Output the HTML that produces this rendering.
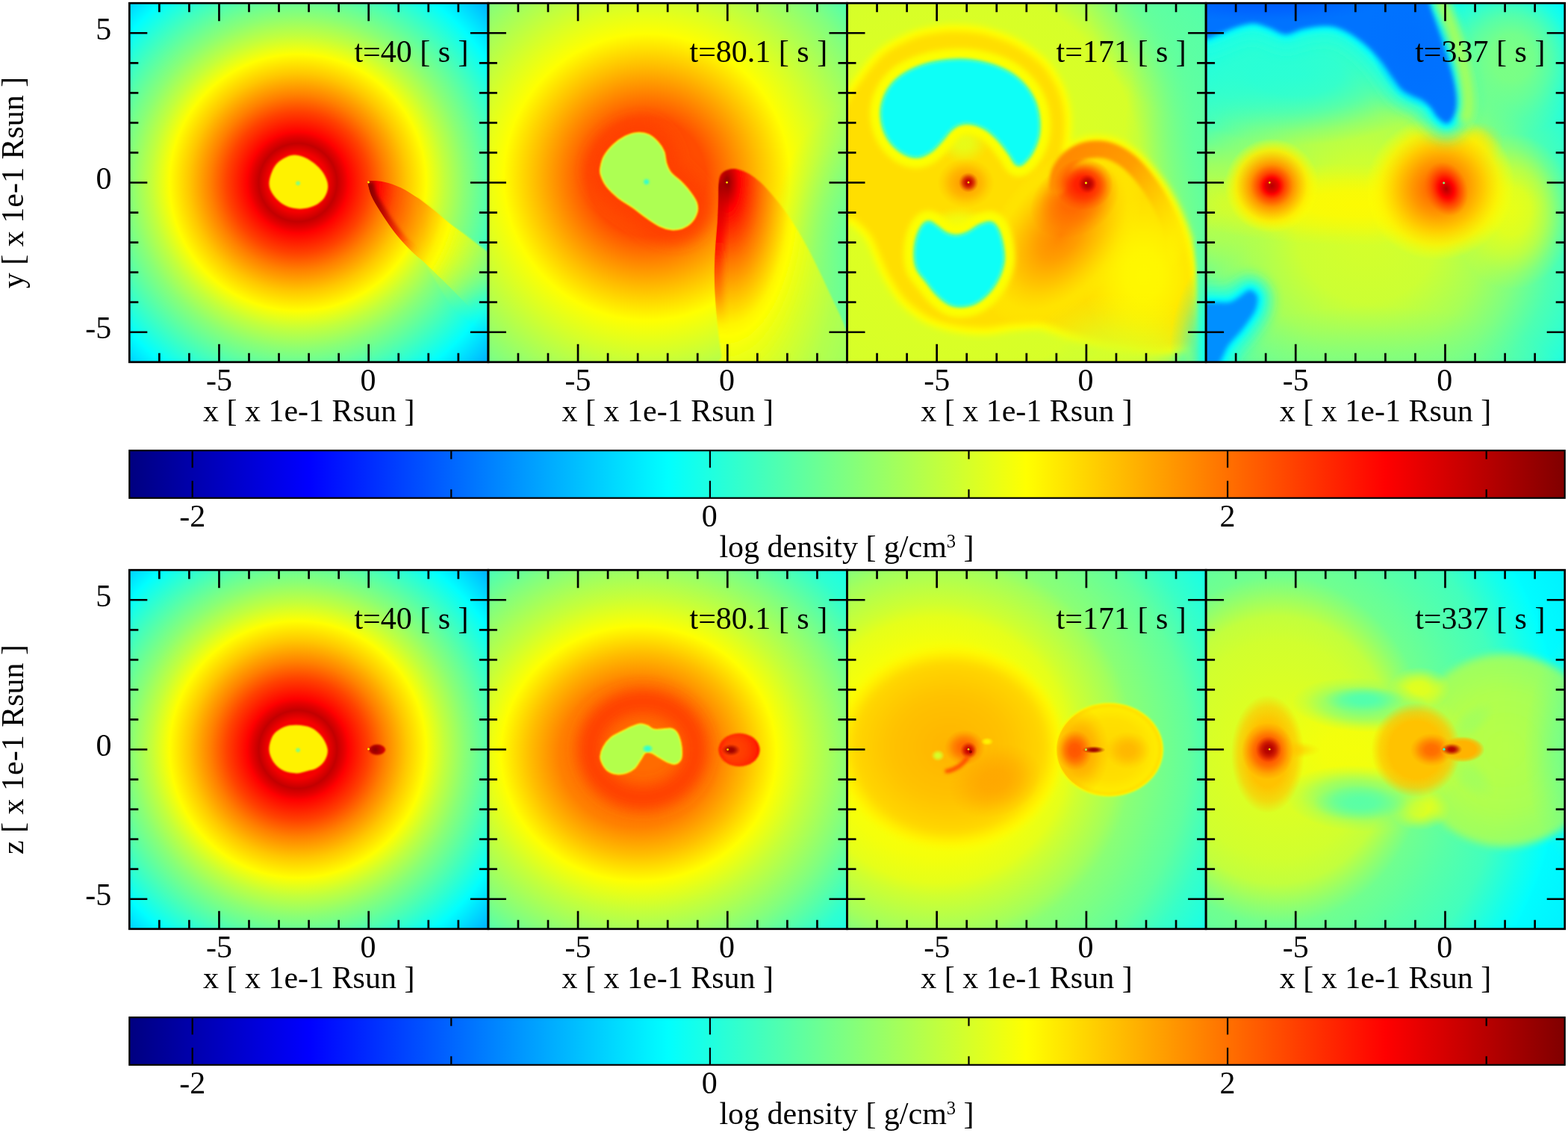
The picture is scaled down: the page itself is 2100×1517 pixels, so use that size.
<!DOCTYPE html>
<html lang="en"><head><meta charset="utf-8"><title>log density maps</title><style>html,body{margin:0;padding:0;background:#fff}body{width:2100px;height:1517px;overflow:hidden}svg{display:block}</style></head><body>
<svg width="2100" height="1517" viewBox="0 0 2100 1517"><defs><clipPath id="c00"><rect x="0" y="0" width="1517" height="1517"/></clipPath><radialGradient id="g1" gradientUnits="userSpaceOnUse" cx="712.5" cy="758" r="1400"><stop offset="0" stop-color="#fa0000"/><stop offset="0.0893" stop-color="#f50000"/><stop offset="0.1179" stop-color="#c20000"/><stop offset="0.1393" stop-color="#e50000"/><stop offset="0.1529" stop-color="#ff0000"/><stop offset="0.2143" stop-color="#ff4200"/><stop offset="0.2636" stop-color="#ff8000"/><stop offset="0.3279" stop-color="#ffc700"/><stop offset="0.3871" stop-color="#ffff00"/><stop offset="0.4429" stop-color="#c2ff3d"/><stop offset="0.5029" stop-color="#8aff75"/><stop offset="0.6071" stop-color="#38ffc7"/><stop offset="0.6786" stop-color="#00ffff"/><stop offset="0.7857" stop-color="#00b2ff"/><stop offset="1" stop-color="#0080ff"/></radialGradient><radialGradient id="g2" gradientUnits="userSpaceOnUse" cx="712" cy="760" r="1000"><stop offset="0" stop-color="#c70000"/><stop offset="0.3" stop-color="#c70000"/><stop offset="0.34" stop-color="#ff0000"/><stop offset="0.412" stop-color="#ff4c00"/><stop offset="0.545" stop-color="#ffa800"/><stop offset="0.635" stop-color="#fff000"/><stop offset="0.6637" stop-color="#ffff00"/><stop offset="0.75" stop-color="#d1ff2e"/><stop offset="0.9" stop-color="#80ff80"/><stop offset="1" stop-color="#42ffbd"/></radialGradient><linearGradient id="g3" gradientUnits="userSpaceOnUse" x1="1400" y1="962" x2="1225" y2="1188"><stop offset="0" stop-color="#fff" stop-opacity="0.9"/><stop offset="0.35" stop-color="#fff" stop-opacity="0.75"/><stop offset="1" stop-color="#fff" stop-opacity="0"/></linearGradient><mask id="m4" maskUnits="userSpaceOnUse" x="-100" y="-100" width="1720" height="1720"><rect x="-100" y="-100" width="1720" height="1720" fill="url(#g3)"/></mask><filter id="b3" x="-50%" y="-50%" width="200%" height="200%"><feGaussianBlur stdDeviation="3"/></filter><clipPath id="wk1"><path d="M1008 762C1009.43 760.17 1004.93 752 1016.6 751C1028.27 750 1056.27 751.17 1078 756C1099.73 760.83 1124.17 769.17 1147 780C1169.83 790.83 1192.17 805.5 1215 821C1237.83 836.5 1261 854.67 1284 873C1307 891.33 1330.17 912.67 1353 931C1375.83 949.33 1389.83 959 1421 983C1452.17 1007 1520.17 1059.67 1540 1075L1540 1390C1514.5 1363.83 1424 1270.67 1387 1233C1350 1195.33 1340.83 1186.5 1318 1164C1295.17 1141.5 1269.33 1115.83 1250 1098C1230.67 1080.17 1219.17 1073.33 1202 1057C1184.83 1040.67 1164.17 1019.83 1147 1000C1129.83 980.17 1113.83 958.67 1099 938C1084.17 917.33 1070.67 896.67 1058 876C1045.33 855.33 1031.33 833 1023 814C1014.67 795 1010.5 770.67 1008 762Z"/></clipPath><linearGradient id="g5" gradientUnits="userSpaceOnUse" x1="1010" y1="756" x2="1500" y2="1230"><stop offset="0" stop-color="#fff" stop-opacity="1"/><stop offset="0.66" stop-color="#fff" stop-opacity="0.95"/><stop offset="0.85" stop-color="#fff" stop-opacity="0.5"/><stop offset="1" stop-color="#fff" stop-opacity="0"/></linearGradient><mask id="m6" maskUnits="userSpaceOnUse" x="-100" y="-100" width="1720" height="1720"><rect x="-100" y="-100" width="1720" height="1720" fill="url(#g5)"/></mask><linearGradient id="g7" gradientUnits="userSpaceOnUse" x1="1010" y1="756" x2="1202" y2="1057"><stop offset="0" stop-color="#800000"/><stop offset="0.3" stop-color="#9e0000" stop-opacity="0.95"/><stop offset="0.7" stop-color="#e50000" stop-opacity="0.6"/><stop offset="0.775" stop-color="#ff0000" stop-opacity="0.45"/><stop offset="1" stop-color="#ff4c00" stop-opacity="0"/></linearGradient><filter id="b9" x="-50%" y="-50%" width="200%" height="200%"><feGaussianBlur stdDeviation="9"/></filter><filter id="b2_5" x="-50%" y="-50%" width="200%" height="200%"><feGaussianBlur stdDeviation="2.5"/></filter><filter id="b3_5" x="-50%" y="-50%" width="200%" height="200%"><feGaussianBlur stdDeviation="3.5"/></filter><filter id="b1_5" x="-50%" y="-50%" width="200%" height="200%"><feGaussianBlur stdDeviation="1.5"/></filter><clipPath id="c01"><rect x="0" y="0" width="1517" height="1517"/></clipPath><radialGradient id="g8" gradientUnits="userSpaceOnUse" cx="670" cy="735" r="1400"><stop offset="0" stop-color="#ff4c00"/><stop offset="0.1786" stop-color="#ff4c00"/><stop offset="0.2643" stop-color="#ff8a00"/><stop offset="0.3357" stop-color="#ffbd00"/><stop offset="0.4321" stop-color="#ffff00"/><stop offset="0.525" stop-color="#d6ff29"/><stop offset="0.7143" stop-color="#80ff80"/><stop offset="0.8214" stop-color="#42ffbd"/><stop offset="1" stop-color="#05fffa"/></radialGradient><radialGradient id="g9" gradientUnits="userSpaceOnUse" cx="1620" cy="1000" r="420" gradientTransform="translate(1620 1000) rotate(0) scale(1 1.4286) translate(-1620 -1000)"><stop offset="0" stop-color="#4dffb2" stop-opacity="0.75"/><stop offset="0.3" stop-color="#4dffb2" stop-opacity="0.69"/><stop offset="0.55" stop-color="#4dffb2" stop-opacity="0.46"/><stop offset="0.8" stop-color="#4dffb2" stop-opacity="0.17"/><stop offset="1" stop-color="#4dffb2" stop-opacity="0"/></radialGradient><filter id="b28" x="-50%" y="-50%" width="200%" height="200%"><feGaussianBlur stdDeviation="28"/></filter><radialGradient id="g10" gradientUnits="userSpaceOnUse" cx="1007.79" cy="758.08" r="1400" gradientTransform="translate(1007.79 0) scale(0.45 1) translate(-1007.79 0)"><stop offset="0" stop-color="#800000"/><stop offset="0.0264" stop-color="#b30000"/><stop offset="0.0829" stop-color="#ff0000"/><stop offset="0.1429" stop-color="#ff2e00"/><stop offset="0.2357" stop-color="#ff7500"/><stop offset="0.3343" stop-color="#ffb800"/><stop offset="0.4286" stop-color="#fff500"/><stop offset="0.4629" stop-color="#ffff00"/><stop offset="0.5143" stop-color="#f0ff0f"/><stop offset="0.6236" stop-color="#d6ff29"/><stop offset="0.8" stop-color="#b3ff4c"/><stop offset="1" stop-color="#9eff61"/></radialGradient><clipPath id="wk2"><path d="M974.12 754.96C972.04 774.18 973.29 806.92 972.25 836.01C971.21 865.11 969.96 898.36 967.88 929.54C965.8 960.71 961.86 991.89 959.78 1023.06C957.7 1054.24 955.93 1085.41 955.41 1116.59C954.89 1147.76 955.41 1178.94 956.66 1210.11C957.91 1241.29 960.3 1272.46 962.89 1303.63C965.49 1334.81 968.61 1365.98 972.25 1397.16C975.88 1428.33 981.08 1463.67 984.72 1490.68C988.35 1517.7 893.79 1547.84 994.07 1559.27C1094.35 1570.7 1499.1 1586.29 1586.39 1559.27C1673.68 1532.25 1533.39 1434.57 1517.81 1397.16C1502.22 1359.75 1504.3 1360.79 1492.87 1334.81C1481.43 1308.83 1464.81 1274.54 1449.22 1241.29C1433.63 1208.03 1415.97 1169.58 1399.34 1135.29C1382.71 1101 1366.09 1066.71 1349.46 1035.53C1332.84 1004.36 1316.21 975.26 1299.58 948.24C1282.96 921.22 1266.33 896.28 1249.7 873.42C1233.08 850.56 1216.45 830.3 1199.82 811.07C1183.2 791.85 1166.57 773.14 1149.94 758.08C1133.32 743.01 1116.69 730.02 1100.06 720.67C1083.44 711.31 1064.73 704.77 1050.18 701.96C1035.64 699.16 1023.69 700.71 1012.77 703.83C1001.86 706.95 991.16 712.15 984.72 720.67C978.27 729.19 976.2 735.73 974.12 754.96Z"/></clipPath><linearGradient id="g11" gradientUnits="userSpaceOnUse" x1="1007.79" y1="758.08" x2="1007.79" y2="1378.08"><stop offset="0" stop-color="#9e0000"/><stop offset="0.15" stop-color="#d10000"/><stop offset="0.375" stop-color="#ff0000" stop-opacity="0.93"/><stop offset="0.45" stop-color="#ff0f00" stop-opacity="0.9"/><stop offset="0.75" stop-color="#ff6100" stop-opacity="0.6"/><stop offset="1" stop-color="#ffb300" stop-opacity="0"/></linearGradient><filter id="b14" x="-50%" y="-50%" width="200%" height="200%"><feGaussianBlur stdDeviation="14"/></filter><filter id="b5" x="-50%" y="-50%" width="200%" height="200%"><feGaussianBlur stdDeviation="5"/></filter><clipPath id="c02"><rect x="0" y="0" width="1517" height="1517"/></clipPath><radialGradient id="g12" gradientUnits="userSpaceOnUse" cx="400" cy="760" r="1400"><stop offset="0" stop-color="#e5ff1a"/><stop offset="0.6071" stop-color="#d6ff29"/><stop offset="0.7143" stop-color="#9eff61"/><stop offset="0.7943" stop-color="#6bff94"/><stop offset="0.8929" stop-color="#42ffbd"/><stop offset="0.965" stop-color="#1affe5"/><stop offset="1.0315" stop-color="#00ffff"/><stop offset="1.0714" stop-color="#00f0ff"/></radialGradient><radialGradient id="g13" gradientUnits="userSpaceOnUse" cx="1517" cy="0" r="500" gradientTransform="translate(1517 0) rotate(0) scale(1 1.0000) translate(-1517 0)"><stop offset="0" stop-color="#61ff9e" stop-opacity="0.8"/><stop offset="0.3" stop-color="#61ff9e" stop-opacity="0.74"/><stop offset="0.55" stop-color="#61ff9e" stop-opacity="0.5"/><stop offset="0.8" stop-color="#61ff9e" stop-opacity="0.18"/><stop offset="1" stop-color="#61ff9e" stop-opacity="0"/></radialGradient><radialGradient id="g14" gradientUnits="userSpaceOnUse" cx="1600" cy="560" r="430" gradientTransform="translate(1600 560) rotate(0) scale(1 1.6279) translate(-1600 -560)"><stop offset="0" stop-color="#5cffa3" stop-opacity="0.9"/><stop offset="0.3" stop-color="#5cffa3" stop-opacity="0.83"/><stop offset="0.55" stop-color="#5cffa3" stop-opacity="0.56"/><stop offset="0.8" stop-color="#5cffa3" stop-opacity="0.2"/><stop offset="1" stop-color="#5cffa3" stop-opacity="0"/></radialGradient><radialGradient id="g15" gradientUnits="userSpaceOnUse" cx="1150" cy="1560" r="450" gradientTransform="translate(1150 1560) rotate(0) scale(1 0.7333) translate(-1150 -1560)"><stop offset="0" stop-color="#dbff24" stop-opacity="0.95"/><stop offset="0.3" stop-color="#dbff24" stop-opacity="0.87"/><stop offset="0.55" stop-color="#dbff24" stop-opacity="0.59"/><stop offset="0.8" stop-color="#dbff24" stop-opacity="0.21"/><stop offset="1" stop-color="#dbff24" stop-opacity="0"/></radialGradient><radialGradient id="g16" gradientUnits="userSpaceOnUse" cx="1250" cy="1150" r="260" gradientTransform="translate(1250 1150) rotate(0) scale(1 1.2692) translate(-1250 -1150)"><stop offset="0" stop-color="#ffff00" stop-opacity="0.8"/><stop offset="0.3" stop-color="#ffff00" stop-opacity="0.74"/><stop offset="0.55" stop-color="#ffff00" stop-opacity="0.5"/><stop offset="0.8" stop-color="#ffff00" stop-opacity="0.18"/><stop offset="1" stop-color="#ffff00" stop-opacity="0"/></radialGradient><filter id="b10" x="-50%" y="-50%" width="200%" height="200%"><feGaussianBlur stdDeviation="10"/></filter><radialGradient id="g17" gradientUnits="userSpaceOnUse" cx="1560" cy="1500" r="200" gradientTransform="translate(1560 1500) rotate(0) scale(1 2.1000) translate(-1560 -1500)"><stop offset="0" stop-color="#0ffff0" stop-opacity="0.9"/><stop offset="0.3" stop-color="#0ffff0" stop-opacity="0.83"/><stop offset="0.55" stop-color="#0ffff0" stop-opacity="0.56"/><stop offset="0.8" stop-color="#0ffff0" stop-opacity="0.2"/><stop offset="1" stop-color="#0ffff0" stop-opacity="0"/></radialGradient><radialGradient id="g18" gradientUnits="userSpaceOnUse" cx="900" cy="980" r="440" gradientTransform="translate(900 980) rotate(-52) scale(1 0.6200) translate(-900 -980)"><stop offset="0" stop-color="#ff8500"/><stop offset="0.2727" stop-color="#ff9e00"/><stop offset="0.5682" stop-color="#ffc700"/><stop offset="0.8182" stop-color="#ffe500" stop-opacity="0.7"/><stop offset="1" stop-color="#fff000" stop-opacity="0"/></radialGradient><radialGradient id="g19" gradientUnits="userSpaceOnUse" cx="960" cy="830" r="200" gradientTransform="translate(960 830) rotate(-30) scale(1 0.7500) translate(-960 -830)"><stop offset="0" stop-color="#ff6100" stop-opacity="0.9"/><stop offset="0.3" stop-color="#ff6100" stop-opacity="0.83"/><stop offset="0.55" stop-color="#ff6100" stop-opacity="0.56"/><stop offset="0.8" stop-color="#ff6100" stop-opacity="0.2"/><stop offset="1" stop-color="#ff6100" stop-opacity="0"/></radialGradient><linearGradient id="g20" gradientUnits="userSpaceOnUse" x1="900" y1="700" x2="1400" y2="1100"><stop offset="0" stop-color="#ff8a00"/><stop offset="0.35" stop-color="#ff9e00"/><stop offset="0.6" stop-color="#ffc700" stop-opacity="0.9"/><stop offset="0.85" stop-color="#fff000" stop-opacity="0.5"/><stop offset="0.9625" stop-color="#ffff00" stop-opacity="0.12"/><stop offset="1" stop-color="#faff05" stop-opacity="0"/></linearGradient><filter id="b8" x="-50%" y="-50%" width="200%" height="200%"><feGaussianBlur stdDeviation="8"/></filter><radialGradient id="g21" gradientUnits="userSpaceOnUse" cx="997.5" cy="765" r="125" gradientTransform="translate(997.5 765) rotate(0) scale(1 0.8800) translate(-997.5 -765)"><stop offset="0" stop-color="#ff1a00"/><stop offset="0.3" stop-color="#ff1a00" stop-opacity="0.92"/><stop offset="0.55" stop-color="#ff1a00" stop-opacity="0.62"/><stop offset="0.8" stop-color="#ff1a00" stop-opacity="0.22"/><stop offset="1" stop-color="#ff1a00" stop-opacity="0"/></radialGradient><radialGradient id="g22" gradientUnits="userSpaceOnUse" cx="1013.5" cy="764" r="40" gradientTransform="translate(1013.5 764) rotate(0) scale(1 1.0000) translate(-1013.5 -764)"><stop offset="0" stop-color="#b30000"/><stop offset="0.3" stop-color="#b30000" stop-opacity="0.92"/><stop offset="0.55" stop-color="#b30000" stop-opacity="0.62"/><stop offset="0.8" stop-color="#b30000" stop-opacity="0.22"/><stop offset="1" stop-color="#b30000" stop-opacity="0"/></radialGradient><radialGradient id="g23" gradientUnits="userSpaceOnUse" cx="490" cy="590" r="110" gradientTransform="translate(490 590) rotate(0) scale(1 0.8182) translate(-490 -590)"><stop offset="0" stop-color="#e5ff1a" stop-opacity="0.9"/><stop offset="0.3" stop-color="#e5ff1a" stop-opacity="0.83"/><stop offset="0.55" stop-color="#e5ff1a" stop-opacity="0.56"/><stop offset="0.8" stop-color="#e5ff1a" stop-opacity="0.2"/><stop offset="1" stop-color="#e5ff1a" stop-opacity="0"/></radialGradient><radialGradient id="g24" gradientUnits="userSpaceOnUse" cx="470" cy="930" r="130" gradientTransform="translate(470 930) rotate(0) scale(1 0.5385) translate(-470 -930)"><stop offset="0" stop-color="#f0ff0f" stop-opacity="0.9"/><stop offset="0.3" stop-color="#f0ff0f" stop-opacity="0.83"/><stop offset="0.55" stop-color="#f0ff0f" stop-opacity="0.56"/><stop offset="0.8" stop-color="#f0ff0f" stop-opacity="0.2"/><stop offset="1" stop-color="#f0ff0f" stop-opacity="0"/></radialGradient><radialGradient id="g25" gradientUnits="userSpaceOnUse" cx="500" cy="760" r="120" gradientTransform="translate(500 760) rotate(0) scale(1 0.8750) translate(-500 -760)"><stop offset="0" stop-color="#ff9e00" stop-opacity="0.95"/><stop offset="0.3" stop-color="#ff9e00" stop-opacity="0.87"/><stop offset="0.55" stop-color="#ff9e00" stop-opacity="0.59"/><stop offset="0.8" stop-color="#ff9e00" stop-opacity="0.21"/><stop offset="1" stop-color="#ff9e00" stop-opacity="0"/></radialGradient><radialGradient id="g26" gradientUnits="userSpaceOnUse" cx="511" cy="758" r="42" gradientTransform="translate(511 758) rotate(0) scale(1 1.0000) translate(-511 -758)"><stop offset="0" stop-color="#c70000"/><stop offset="0.3" stop-color="#c70000" stop-opacity="0.92"/><stop offset="0.55" stop-color="#c70000" stop-opacity="0.62"/><stop offset="0.8" stop-color="#c70000" stop-opacity="0.22"/><stop offset="1" stop-color="#c70000" stop-opacity="0"/></radialGradient><filter id="b12" x="-50%" y="-50%" width="200%" height="200%"><feGaussianBlur stdDeviation="12"/></filter><filter id="b7" x="-50%" y="-50%" width="200%" height="200%"><feGaussianBlur stdDeviation="7"/></filter><clipPath id="c03"><rect x="0" y="0" width="1517" height="1517"/></clipPath><radialGradient id="g27" gradientUnits="userSpaceOnUse" cx="680" cy="960" r="1400"><stop offset="0" stop-color="#d6ff29"/><stop offset="0.2143" stop-color="#ccff33"/><stop offset="0.3571" stop-color="#a8ff57"/><stop offset="0.4643" stop-color="#80ff80"/><stop offset="0.5714" stop-color="#4dffb2"/><stop offset="0.7143" stop-color="#1fffe0"/><stop offset="0.8571" stop-color="#00ffff"/><stop offset="1.0714" stop-color="#00f0ff"/></radialGradient><radialGradient id="g28" gradientUnits="userSpaceOnUse" cx="-60" cy="850" r="420" gradientTransform="translate(-60 850) rotate(0) scale(1 0.7857) translate(60 -850)"><stop offset="0" stop-color="#c7ff38" stop-opacity="0.85"/><stop offset="0.3" stop-color="#c7ff38" stop-opacity="0.78"/><stop offset="0.55" stop-color="#c7ff38" stop-opacity="0.53"/><stop offset="0.8" stop-color="#c7ff38" stop-opacity="0.19"/><stop offset="1" stop-color="#c7ff38" stop-opacity="0"/></radialGradient><radialGradient id="g29" gradientUnits="userSpaceOnUse" cx="700" cy="1700" r="900" gradientTransform="translate(700 1700) rotate(0) scale(1 0.4667) translate(-700 -1700)"><stop offset="0" stop-color="#75ff8a" stop-opacity="0.9"/><stop offset="0.3" stop-color="#75ff8a" stop-opacity="0.83"/><stop offset="0.55" stop-color="#75ff8a" stop-opacity="0.56"/><stop offset="0.8" stop-color="#75ff8a" stop-opacity="0.2"/><stop offset="1" stop-color="#75ff8a" stop-opacity="0"/></radialGradient><radialGradient id="g30" gradientUnits="userSpaceOnUse" cx="380" cy="300" r="620" gradientTransform="translate(380 300) rotate(0) scale(1 0.4839) translate(-380 -300)"><stop offset="0" stop-color="#24ffdb" stop-opacity="0.9"/><stop offset="0.3" stop-color="#24ffdb" stop-opacity="0.83"/><stop offset="0.55" stop-color="#24ffdb" stop-opacity="0.56"/><stop offset="0.8" stop-color="#24ffdb" stop-opacity="0.2"/><stop offset="1" stop-color="#24ffdb" stop-opacity="0"/></radialGradient><radialGradient id="g31" gradientUnits="userSpaceOnUse" cx="1290" cy="230" r="300" gradientTransform="translate(1290 230) rotate(0) scale(1 1.1000) translate(-1290 -230)"><stop offset="0" stop-color="#85ff7a" stop-opacity="0.9"/><stop offset="0.3" stop-color="#85ff7a" stop-opacity="0.83"/><stop offset="0.55" stop-color="#85ff7a" stop-opacity="0.56"/><stop offset="0.8" stop-color="#85ff7a" stop-opacity="0.2"/><stop offset="1" stop-color="#85ff7a" stop-opacity="0"/></radialGradient><radialGradient id="g32" gradientUnits="userSpaceOnUse" cx="640" cy="850" r="800" gradientTransform="translate(640 850) rotate(0) scale(1 0.2188) translate(-640 -850)"><stop offset="0" stop-color="#fffa00" stop-opacity="0.95"/><stop offset="0.3" stop-color="#fffa00" stop-opacity="0.87"/><stop offset="0.55" stop-color="#fffa00" stop-opacity="0.59"/><stop offset="0.8" stop-color="#fffa00" stop-opacity="0.21"/><stop offset="1" stop-color="#fffa00" stop-opacity="0"/></radialGradient><radialGradient id="g33" gradientUnits="userSpaceOnUse" cx="1290" cy="880" r="260" gradientTransform="translate(1290 880) rotate(0) scale(1 1.2692) translate(-1290 -880)"><stop offset="0" stop-color="#f5ff0a" stop-opacity="0.85"/><stop offset="0.3" stop-color="#f5ff0a" stop-opacity="0.78"/><stop offset="0.55" stop-color="#f5ff0a" stop-opacity="0.53"/><stop offset="0.8" stop-color="#f5ff0a" stop-opacity="0.19"/><stop offset="1" stop-color="#f5ff0a" stop-opacity="0"/></radialGradient><radialGradient id="g34" gradientUnits="userSpaceOnUse" cx="1090" cy="620" r="170" gradientTransform="translate(1090 620) rotate(-20) scale(1 0.6471) translate(-1090 -620)"><stop offset="0" stop-color="#ffdb00" stop-opacity="0.9"/><stop offset="0.3" stop-color="#ffdb00" stop-opacity="0.83"/><stop offset="0.55" stop-color="#ffdb00" stop-opacity="0.56"/><stop offset="0.8" stop-color="#ffdb00" stop-opacity="0.2"/><stop offset="1" stop-color="#ffdb00" stop-opacity="0"/></radialGradient><radialGradient id="g35" gradientUnits="userSpaceOnUse" cx="985" cy="780" r="320" gradientTransform="translate(985 780) rotate(-25) scale(1 0.9500) translate(-985 -780)"><stop offset="0" stop-color="#ff5700"/><stop offset="0.1562" stop-color="#ff6b00"/><stop offset="0.375" stop-color="#ff9900"/><stop offset="0.5938" stop-color="#ffcc00"/><stop offset="0.7812" stop-color="#fff000" stop-opacity="0.8"/><stop offset="0.9453" stop-color="#ffff00" stop-opacity="0.2"/><stop offset="1" stop-color="#faff05" stop-opacity="0"/></radialGradient><radialGradient id="g36" gradientUnits="userSpaceOnUse" cx="1012" cy="785" r="90" gradientTransform="translate(1012 785) rotate(-20) scale(1 1.3000) translate(-1012 -785)"><stop offset="0" stop-color="#b30000"/><stop offset="0.2222" stop-color="#e50000"/><stop offset="0.3333" stop-color="#ff0000"/><stop offset="0.4444" stop-color="#ff1a00"/><stop offset="0.7222" stop-color="#ff4c00" stop-opacity="0.7"/><stop offset="1" stop-color="#ff6b00" stop-opacity="0"/></radialGradient><filter id="b30" x="-50%" y="-50%" width="200%" height="200%"><feGaussianBlur stdDeviation="30"/></filter><filter id="b11" x="-50%" y="-50%" width="200%" height="200%"><feGaussianBlur stdDeviation="11"/></filter><radialGradient id="g37" gradientUnits="userSpaceOnUse" cx="870" cy="200" r="170" gradientTransform="translate(870 200) rotate(-25) scale(1 1.5294) translate(-870 -200)"><stop offset="0" stop-color="#0070ff" stop-opacity="0.9"/><stop offset="0.3" stop-color="#0070ff" stop-opacity="0.83"/><stop offset="0.55" stop-color="#0070ff" stop-opacity="0.56"/><stop offset="0.8" stop-color="#0070ff" stop-opacity="0.2"/><stop offset="1" stop-color="#0070ff" stop-opacity="0"/></radialGradient><radialGradient id="g38" gradientUnits="userSpaceOnUse" cx="250" cy="-10" r="500" gradientTransform="translate(250 -10) rotate(0) scale(1 0.1800) translate(-250 10)"><stop offset="0" stop-color="#005cff" stop-opacity="0.9"/><stop offset="0.3" stop-color="#005cff" stop-opacity="0.83"/><stop offset="0.55" stop-color="#005cff" stop-opacity="0.56"/><stop offset="0.8" stop-color="#005cff" stop-opacity="0.2"/><stop offset="1" stop-color="#005cff" stop-opacity="0"/></radialGradient><filter id="b16" x="-50%" y="-50%" width="200%" height="200%"><feGaussianBlur stdDeviation="16"/></filter><filter id="b26" x="-50%" y="-50%" width="200%" height="200%"><feGaussianBlur stdDeviation="26"/></filter><radialGradient id="g39" gradientUnits="userSpaceOnUse" cx="275" cy="772" r="200"><stop offset="0" stop-color="#b30000"/><stop offset="0.135" stop-color="#e50000"/><stop offset="0.1739" stop-color="#ff0000"/><stop offset="0.275" stop-color="#ff4200"/><stop offset="0.45" stop-color="#ff9400"/><stop offset="0.75" stop-color="#ffeb00" stop-opacity="0.85"/><stop offset="0.95" stop-color="#ffff00" stop-opacity="0.17"/><stop offset="1" stop-color="#faff05" stop-opacity="0"/></radialGradient><clipPath id="c10"><rect x="0" y="0" width="1517" height="1517"/></clipPath><radialGradient id="g40" gradientUnits="userSpaceOnUse" cx="712.5" cy="758" r="1400"><stop offset="0" stop-color="#fa0000"/><stop offset="0.0893" stop-color="#f50000"/><stop offset="0.1179" stop-color="#c20000"/><stop offset="0.1393" stop-color="#e50000"/><stop offset="0.1529" stop-color="#ff0000"/><stop offset="0.2143" stop-color="#ff4200"/><stop offset="0.2636" stop-color="#ff8000"/><stop offset="0.3279" stop-color="#ffc700"/><stop offset="0.3871" stop-color="#ffff00"/><stop offset="0.4429" stop-color="#c2ff3d"/><stop offset="0.5029" stop-color="#8aff75"/><stop offset="0.6071" stop-color="#38ffc7"/><stop offset="0.6786" stop-color="#00ffff"/><stop offset="0.7857" stop-color="#00b2ff"/><stop offset="1" stop-color="#0080ff"/></radialGradient><radialGradient id="g41" gradientUnits="userSpaceOnUse" cx="1039.44" cy="759.57" r="40"><stop offset="0" stop-color="#8a0000"/><stop offset="0.5" stop-color="#b30000"/><stop offset="1" stop-color="#db0000"/></radialGradient><clipPath id="c11"><rect x="0" y="0" width="1517" height="1517"/></clipPath><radialGradient id="g42" gradientUnits="userSpaceOnUse" cx="635" cy="776" r="1400" gradientTransform="translate(0 776) scale(1 0.925) translate(0 -776)"><stop offset="0" stop-color="#ff6b00"/><stop offset="0.1429" stop-color="#ff6b00"/><stop offset="0.2393" stop-color="#ff8000"/><stop offset="0.3286" stop-color="#ffbd00"/><stop offset="0.4157" stop-color="#ffff00"/><stop offset="0.5107" stop-color="#c7ff38"/><stop offset="0.65" stop-color="#80ff80"/><stop offset="0.7929" stop-color="#2effd1"/><stop offset="0.9482" stop-color="#00ffff"/><stop offset="1" stop-color="#00f0ff"/></radialGradient><radialGradient id="g43" gradientUnits="userSpaceOnUse" cx="1059.63" cy="760.22" r="90" fx="1023.23" fy="758.72"><stop offset="0" stop-color="#ff4c00"/><stop offset="0.5556" stop-color="#ff3800"/><stop offset="0.8333" stop-color="#ff2400"/><stop offset="1" stop-color="#ff0500"/></radialGradient><radialGradient id="g44" gradientUnits="userSpaceOnUse" cx="1025.23" cy="760.72" r="40" gradientTransform="translate(1025.23 760.72) rotate(0) scale(1 0.6500) translate(-1025.23 -760.72)"><stop offset="0" stop-color="#9e0000"/><stop offset="0.3" stop-color="#9e0000" stop-opacity="0.92"/><stop offset="0.55" stop-color="#9e0000" stop-opacity="0.62"/><stop offset="0.8" stop-color="#9e0000" stop-opacity="0.22"/><stop offset="1" stop-color="#9e0000" stop-opacity="0"/></radialGradient><radialGradient id="g45" gradientUnits="userSpaceOnUse" cx="672.89" cy="755.23" r="26" gradientTransform="translate(672.89 755.23) rotate(0) scale(1 0.7692) translate(-672.89 -755.23)"><stop offset="0" stop-color="#2effd1"/><stop offset="0.3" stop-color="#2effd1" stop-opacity="0.92"/><stop offset="0.55" stop-color="#2effd1" stop-opacity="0.62"/><stop offset="0.8" stop-color="#2effd1" stop-opacity="0.22"/><stop offset="1" stop-color="#2effd1" stop-opacity="0"/></radialGradient><clipPath id="c12"><rect x="0" y="0" width="1517" height="1517"/></clipPath><radialGradient id="g46" gradientUnits="userSpaceOnUse" cx="380" cy="760" r="1400"><stop offset="0" stop-color="#faff05"/><stop offset="0.3214" stop-color="#f5ff0a"/><stop offset="0.4" stop-color="#e5ff1a"/><stop offset="0.4414" stop-color="#cfff30"/><stop offset="0.55" stop-color="#a3ff5c"/><stop offset="0.5929" stop-color="#8aff75"/><stop offset="0.7614" stop-color="#61ff9e"/><stop offset="0.8571" stop-color="#38ffc7"/><stop offset="1" stop-color="#0ffff0"/></radialGradient><radialGradient id="g47" gradientUnits="userSpaceOnUse" cx="430" cy="750" r="480" gradientTransform="translate(0 750) scale(1 0.883) translate(0 -750)"><stop offset="0" stop-color="#ffb300"/><stop offset="0.5208" stop-color="#ffc200"/><stop offset="0.8333" stop-color="#ffd600"/><stop offset="0.9479" stop-color="#fff500"/><stop offset="1" stop-color="#ffff00"/></radialGradient><radialGradient id="g48" gradientUnits="userSpaceOnUse" cx="622" cy="891" r="200" gradientTransform="translate(622 891) rotate(-20) scale(1 0.7500) translate(-622 -891)"><stop offset="0" stop-color="#ffa300" stop-opacity="0.85"/><stop offset="0.3" stop-color="#ffa300" stop-opacity="0.78"/><stop offset="0.55" stop-color="#ffa300" stop-opacity="0.53"/><stop offset="0.8" stop-color="#ffa300" stop-opacity="0.19"/><stop offset="1" stop-color="#ffa300" stop-opacity="0"/></radialGradient><radialGradient id="g49" gradientUnits="userSpaceOnUse" cx="1105.5" cy="759.3" r="222" gradientTransform="translate(0 759.3) scale(1 0.865) translate(0 -759.3)"><stop offset="0" stop-color="#ffd600"/><stop offset="0.6757" stop-color="#ffe000"/><stop offset="0.9009" stop-color="#ffeb00"/><stop offset="1" stop-color="#ffdb00"/></radialGradient><clipPath id="bub3"><ellipse cx="1105.5" cy="759.3" rx="222" ry="192"/></clipPath><radialGradient id="g50" gradientUnits="userSpaceOnUse" cx="975" cy="765" r="130" gradientTransform="translate(975 765) rotate(0) scale(1 1.4615) translate(-975 -765)"><stop offset="0" stop-color="#ff9e00" stop-opacity="0.9"/><stop offset="0.3" stop-color="#ff9e00" stop-opacity="0.83"/><stop offset="0.55" stop-color="#ff9e00" stop-opacity="0.56"/><stop offset="0.8" stop-color="#ff9e00" stop-opacity="0.2"/><stop offset="1" stop-color="#ff9e00" stop-opacity="0"/></radialGradient><radialGradient id="g51" gradientUnits="userSpaceOnUse" cx="960" cy="762" r="75" gradientTransform="translate(960 762) rotate(0) scale(1 1.1333) translate(-960 -762)"><stop offset="0" stop-color="#ff4c00" stop-opacity="0.9"/><stop offset="0.3" stop-color="#ff4c00" stop-opacity="0.83"/><stop offset="0.55" stop-color="#ff4c00" stop-opacity="0.56"/><stop offset="0.8" stop-color="#ff4c00" stop-opacity="0.2"/><stop offset="1" stop-color="#ff4c00" stop-opacity="0"/></radialGradient><radialGradient id="g52" gradientUnits="userSpaceOnUse" cx="1185" cy="762" r="95" gradientTransform="translate(1185 762) rotate(0) scale(1 0.8421) translate(-1185 -762)"><stop offset="0" stop-color="#ffb300" stop-opacity="0.9"/><stop offset="0.3" stop-color="#ffb300" stop-opacity="0.83"/><stop offset="0.55" stop-color="#ffb300" stop-opacity="0.56"/><stop offset="0.8" stop-color="#ffb300" stop-opacity="0.2"/><stop offset="1" stop-color="#ffb300" stop-opacity="0"/></radialGradient><radialGradient id="g53" gradientUnits="userSpaceOnUse" cx="1040" cy="760" r="50" gradientTransform="translate(1040 760) rotate(0) scale(1 0.3200) translate(-1040 -760)"><stop offset="0" stop-color="#9e0000"/><stop offset="0.3" stop-color="#9e0000" stop-opacity="0.92"/><stop offset="0.55" stop-color="#9e0000" stop-opacity="0.62"/><stop offset="0.8" stop-color="#9e0000" stop-opacity="0.22"/><stop offset="1" stop-color="#9e0000" stop-opacity="0"/></radialGradient><radialGradient id="g54" gradientUnits="userSpaceOnUse" cx="495" cy="750" r="85" gradientTransform="translate(495 750) rotate(0) scale(1 0.8824) translate(-495 -750)"><stop offset="0" stop-color="#ff6100" stop-opacity="0.95"/><stop offset="0.3" stop-color="#ff6100" stop-opacity="0.87"/><stop offset="0.55" stop-color="#ff6100" stop-opacity="0.59"/><stop offset="0.8" stop-color="#ff6100" stop-opacity="0.21"/><stop offset="1" stop-color="#ff6100" stop-opacity="0"/></radialGradient><radialGradient id="g55" gradientUnits="userSpaceOnUse" cx="512" cy="762" r="36" gradientTransform="translate(512 762) rotate(0) scale(1 1.0000) translate(-512 -762)"><stop offset="0" stop-color="#c70000"/><stop offset="0.3" stop-color="#c70000" stop-opacity="0.92"/><stop offset="0.55" stop-color="#c70000" stop-opacity="0.62"/><stop offset="0.8" stop-color="#c70000" stop-opacity="0.22"/><stop offset="1" stop-color="#c70000" stop-opacity="0"/></radialGradient><filter id="b6" x="-50%" y="-50%" width="200%" height="200%"><feGaussianBlur stdDeviation="6"/></filter><radialGradient id="g56" gradientUnits="userSpaceOnUse" cx="382" cy="784" r="30" gradientTransform="translate(382 784) rotate(0) scale(1 0.8667) translate(-382 -784)"><stop offset="0" stop-color="#d6ff29"/><stop offset="0.3" stop-color="#d6ff29" stop-opacity="0.92"/><stop offset="0.55" stop-color="#d6ff29" stop-opacity="0.62"/><stop offset="0.8" stop-color="#d6ff29" stop-opacity="0.22"/><stop offset="1" stop-color="#d6ff29" stop-opacity="0"/></radialGradient><radialGradient id="g57" gradientUnits="userSpaceOnUse" cx="590" cy="725" r="28" gradientTransform="translate(590 725) rotate(0) scale(1 0.6429) translate(-590 -725)"><stop offset="0" stop-color="#fffa00" stop-opacity="0.9"/><stop offset="0.3" stop-color="#fffa00" stop-opacity="0.83"/><stop offset="0.55" stop-color="#fffa00" stop-opacity="0.56"/><stop offset="0.8" stop-color="#fffa00" stop-opacity="0.2"/><stop offset="1" stop-color="#fffa00" stop-opacity="0"/></radialGradient><clipPath id="c13"><rect x="0" y="0" width="1517" height="1517"/></clipPath><radialGradient id="g58" gradientUnits="userSpaceOnUse" cx="300" cy="760" r="1400" gradientTransform="translate(0 760) scale(1 1.15) translate(0 -760)"><stop offset="0" stop-color="#e5ff1a"/><stop offset="0.1643" stop-color="#dbff24"/><stop offset="0.2857" stop-color="#d1ff2e"/><stop offset="0.35" stop-color="#c2ff3d"/><stop offset="0.4143" stop-color="#8fff70"/><stop offset="0.4571" stop-color="#70ff8f"/><stop offset="0.5714" stop-color="#57ffa8"/><stop offset="0.6857" stop-color="#42ffbd"/><stop offset="0.7929" stop-color="#14ffeb"/><stop offset="0.8488" stop-color="#00ffff"/><stop offset="0.8571" stop-color="#00fcff"/><stop offset="1" stop-color="#00f0ff"/></radialGradient><radialGradient id="g59" gradientUnits="userSpaceOnUse" cx="1263" cy="762" r="408"><stop offset="0" stop-color="#ccff33"/><stop offset="0.6127" stop-color="#c2ff3d"/><stop offset="1" stop-color="#a8ff57"/></radialGradient><radialGradient id="g60" gradientUnits="userSpaceOnUse" cx="1600" cy="760" r="260" gradientTransform="translate(1600 760) rotate(0) scale(1 1.9231) translate(-1600 -760)"><stop offset="0" stop-color="#61ff9e" stop-opacity="0.8"/><stop offset="0.3" stop-color="#61ff9e" stop-opacity="0.74"/><stop offset="0.55" stop-color="#61ff9e" stop-opacity="0.5"/><stop offset="0.8" stop-color="#61ff9e" stop-opacity="0.18"/><stop offset="1" stop-color="#61ff9e" stop-opacity="0"/></radialGradient><radialGradient id="g61" gradientUnits="userSpaceOnUse" cx="640" cy="760" r="500" gradientTransform="translate(640 760) rotate(0) scale(1 0.6000) translate(-640 -760)"><stop offset="0" stop-color="#faff05" stop-opacity="0.85"/><stop offset="0.3" stop-color="#faff05" stop-opacity="0.78"/><stop offset="0.55" stop-color="#faff05" stop-opacity="0.53"/><stop offset="0.8" stop-color="#faff05" stop-opacity="0.19"/><stop offset="1" stop-color="#faff05" stop-opacity="0"/></radialGradient><radialGradient id="g62" gradientUnits="userSpaceOnUse" cx="900" cy="500" r="130" gradientTransform="translate(900 500) rotate(0) scale(1 0.6923) translate(-900 -500)"><stop offset="0" stop-color="#ffff00" stop-opacity="0.8"/><stop offset="0.3" stop-color="#ffff00" stop-opacity="0.74"/><stop offset="0.55" stop-color="#ffff00" stop-opacity="0.5"/><stop offset="0.8" stop-color="#ffff00" stop-opacity="0.18"/><stop offset="1" stop-color="#ffff00" stop-opacity="0"/></radialGradient><radialGradient id="g63" gradientUnits="userSpaceOnUse" cx="900" cy="1010" r="130" gradientTransform="translate(900 1010) rotate(0) scale(1 0.6923) translate(-900 -1010)"><stop offset="0" stop-color="#ffff00" stop-opacity="0.8"/><stop offset="0.3" stop-color="#ffff00" stop-opacity="0.74"/><stop offset="0.55" stop-color="#ffff00" stop-opacity="0.5"/><stop offset="0.8" stop-color="#ffff00" stop-opacity="0.18"/><stop offset="1" stop-color="#ffff00" stop-opacity="0"/></radialGradient><radialGradient id="g64" gradientUnits="userSpaceOnUse" cx="650" cy="570" r="290" gradientTransform="translate(650 570) rotate(3) scale(1 0.3966) translate(-650 -570)"><stop offset="0" stop-color="#75ff8a" stop-opacity="0.95"/><stop offset="0.3" stop-color="#75ff8a" stop-opacity="0.87"/><stop offset="0.55" stop-color="#75ff8a" stop-opacity="0.59"/><stop offset="0.8" stop-color="#75ff8a" stop-opacity="0.21"/><stop offset="1" stop-color="#75ff8a" stop-opacity="0"/></radialGradient><radialGradient id="g65" gradientUnits="userSpaceOnUse" cx="665" cy="547" r="170" gradientTransform="translate(665 547) rotate(0) scale(1 0.3235) translate(-665 -547)"><stop offset="0" stop-color="#42ffbd" stop-opacity="0.75"/><stop offset="0.3" stop-color="#42ffbd" stop-opacity="0.69"/><stop offset="0.55" stop-color="#42ffbd" stop-opacity="0.46"/><stop offset="0.8" stop-color="#42ffbd" stop-opacity="0.17"/><stop offset="1" stop-color="#42ffbd" stop-opacity="0"/></radialGradient><radialGradient id="g66" gradientUnits="userSpaceOnUse" cx="640" cy="965" r="310" gradientTransform="translate(640 965) rotate(3) scale(1 0.4516) translate(-640 -965)"><stop offset="0" stop-color="#75ff8a" stop-opacity="0.95"/><stop offset="0.3" stop-color="#75ff8a" stop-opacity="0.87"/><stop offset="0.55" stop-color="#75ff8a" stop-opacity="0.59"/><stop offset="0.8" stop-color="#75ff8a" stop-opacity="0.21"/><stop offset="1" stop-color="#75ff8a" stop-opacity="0"/></radialGradient><radialGradient id="g67" gradientUnits="userSpaceOnUse" cx="650" cy="985" r="200" gradientTransform="translate(650 985) rotate(0) scale(1 0.3750) translate(-650 -985)"><stop offset="0" stop-color="#4dffb2" stop-opacity="0.75"/><stop offset="0.3" stop-color="#4dffb2" stop-opacity="0.69"/><stop offset="0.55" stop-color="#4dffb2" stop-opacity="0.46"/><stop offset="0.8" stop-color="#4dffb2" stop-opacity="0.17"/><stop offset="1" stop-color="#4dffb2" stop-opacity="0"/></radialGradient><radialGradient id="g68" gradientUnits="userSpaceOnUse" cx="1120" cy="880" r="120" gradientTransform="translate(1120 880) rotate(40) scale(1 0.5833) translate(-1120 -880)"><stop offset="0" stop-color="#9eff61" stop-opacity="0.7"/><stop offset="0.3" stop-color="#9eff61" stop-opacity="0.64"/><stop offset="0.55" stop-color="#9eff61" stop-opacity="0.43"/><stop offset="0.8" stop-color="#9eff61" stop-opacity="0.15"/><stop offset="1" stop-color="#9eff61" stop-opacity="0"/></radialGradient><radialGradient id="g69" gradientUnits="userSpaceOnUse" cx="1120" cy="640" r="120" gradientTransform="translate(1120 640) rotate(-40) scale(1 0.5000) translate(-1120 -640)"><stop offset="0" stop-color="#9eff61" stop-opacity="0.7"/><stop offset="0.3" stop-color="#9eff61" stop-opacity="0.64"/><stop offset="0.55" stop-color="#9eff61" stop-opacity="0.43"/><stop offset="0.8" stop-color="#9eff61" stop-opacity="0.15"/><stop offset="1" stop-color="#9eff61" stop-opacity="0"/></radialGradient><radialGradient id="g70" gradientUnits="userSpaceOnUse" cx="885" cy="760" r="190" gradientTransform="translate(885 760) rotate(0) scale(1 1.0526) translate(-885 -760)"><stop offset="0" stop-color="#ffc200"/><stop offset="0.6" stop-color="#ffc200"/><stop offset="0.8" stop-color="#ffc200" stop-opacity="0.7"/><stop offset="1" stop-color="#ffc200" stop-opacity="0"/></radialGradient><radialGradient id="g71" gradientUnits="userSpaceOnUse" cx="950" cy="760" r="90" gradientTransform="translate(950 760) rotate(0) scale(1 0.7778) translate(-950 -760)"><stop offset="0" stop-color="#ff6100" stop-opacity="0.9"/><stop offset="0.3" stop-color="#ff6100" stop-opacity="0.83"/><stop offset="0.55" stop-color="#ff6100" stop-opacity="0.56"/><stop offset="0.8" stop-color="#ff6100" stop-opacity="0.2"/><stop offset="1" stop-color="#ff6100" stop-opacity="0"/></radialGradient><radialGradient id="g72" gradientUnits="userSpaceOnUse" cx="1080" cy="758" r="95" gradientTransform="translate(1080 758) rotate(0) scale(1 0.5789) translate(-1080 -758)"><stop offset="0" stop-color="#ffb300"/><stop offset="0.6" stop-color="#ffb300"/><stop offset="0.8" stop-color="#ffb300" stop-opacity="0.7"/><stop offset="1" stop-color="#ffb300" stop-opacity="0"/></radialGradient><radialGradient id="g73" gradientUnits="userSpaceOnUse" cx="1035" cy="758" r="45" gradientTransform="translate(1035 758) rotate(0) scale(1 0.5778) translate(-1035 -758)"><stop offset="0" stop-color="#b30000"/><stop offset="0.3" stop-color="#b30000" stop-opacity="0.92"/><stop offset="0.55" stop-color="#b30000" stop-opacity="0.62"/><stop offset="0.8" stop-color="#b30000" stop-opacity="0.22"/><stop offset="1" stop-color="#b30000" stop-opacity="0"/></radialGradient><radialGradient id="g74" gradientUnits="userSpaceOnUse" cx="258" cy="778" r="155" gradientTransform="translate(258 778) rotate(0) scale(1 1.6129) translate(-258 -778)"><stop offset="0" stop-color="#ffc200"/><stop offset="0.55" stop-color="#ffc200"/><stop offset="0.8" stop-color="#ffc200" stop-opacity="0.6"/><stop offset="1" stop-color="#ffc200" stop-opacity="0"/></radialGradient><radialGradient id="g75" gradientUnits="userSpaceOnUse" cx="330" cy="760" r="150" gradientTransform="translate(330 760) rotate(0) scale(1 0.2667) translate(-330 -760)"><stop offset="0" stop-color="#ffc700" stop-opacity="0.9"/><stop offset="0.3" stop-color="#ffc700" stop-opacity="0.83"/><stop offset="0.55" stop-color="#ffc700" stop-opacity="0.56"/><stop offset="0.8" stop-color="#ffc700" stop-opacity="0.2"/><stop offset="1" stop-color="#ffc700" stop-opacity="0"/></radialGradient><radialGradient id="g76" gradientUnits="userSpaceOnUse" cx="258" cy="765" r="110" gradientTransform="translate(258 765) rotate(0) scale(1 1.0909) translate(-258 -765)"><stop offset="0" stop-color="#ff3800" stop-opacity="0.95"/><stop offset="0.3" stop-color="#ff3800" stop-opacity="0.87"/><stop offset="0.55" stop-color="#ff3800" stop-opacity="0.59"/><stop offset="0.8" stop-color="#ff3800" stop-opacity="0.21"/><stop offset="1" stop-color="#ff3800" stop-opacity="0"/></radialGradient><radialGradient id="g77" gradientUnits="userSpaceOnUse" cx="262" cy="758" r="55" gradientTransform="translate(262 758) rotate(0) scale(1 1.0000) translate(-262 -758)"><stop offset="0" stop-color="#b30000"/><stop offset="0.3" stop-color="#b30000" stop-opacity="0.92"/><stop offset="0.55" stop-color="#b30000" stop-opacity="0.62"/><stop offset="0.8" stop-color="#b30000" stop-opacity="0.22"/><stop offset="1" stop-color="#b30000" stop-opacity="0"/></radialGradient><linearGradient id="g78" gradientUnits="userSpaceOnUse" x1="173.3" y1="0" x2="2095.7" y2="0"><stop offset="0" stop-color="#000080"/><stop offset="0.125" stop-color="#0000ff"/><stop offset="0.375" stop-color="#00ffff"/><stop offset="0.625" stop-color="#ffff00"/><stop offset="0.875" stop-color="#ff0000"/><stop offset="1" stop-color="#800000"/></linearGradient></defs><rect width="2100" height="1517" fill="#fff"/><g transform="translate(173,4) scale(0.31707)" clip-path="url(#c00)"><rect x="-20" y="-20" width="1560" height="1560" fill="url(#g1)"/><g mask="url(#m4)"><path d="M1215 821C1226.5 829.67 1261 854.67 1284 873C1307 891.33 1330.17 913.33 1353 931C1375.83 948.67 1386.5 953.33 1421 979C1455.5 1004.67 1536.83 1067.33 1560 1085L1560 1600L1400 1350L1250 1098Z" fill="url(#g2)" filter="url(#b3)"/></g><g mask="url(#m6)"><path d="M1008 762C1009.43 760.17 1004.93 752 1016.6 751C1028.27 750 1056.27 751.17 1078 756C1099.73 760.83 1124.17 769.17 1147 780C1169.83 790.83 1192.17 805.5 1215 821C1237.83 836.5 1261 854.67 1284 873C1307 891.33 1330.17 912.67 1353 931C1375.83 949.33 1389.83 959 1421 983C1452.17 1007 1520.17 1059.67 1540 1075L1540 1390C1514.5 1363.83 1424 1270.67 1387 1233C1350 1195.33 1340.83 1186.5 1318 1164C1295.17 1141.5 1269.33 1115.83 1250 1098C1230.67 1080.17 1219.17 1073.33 1202 1057C1184.83 1040.67 1164.17 1019.83 1147 1000C1129.83 980.17 1113.83 958.67 1099 938C1084.17 917.33 1070.67 896.67 1058 876C1045.33 855.33 1031.33 833 1023 814C1014.67 795 1010.5 770.67 1008 762Z" fill="url(#g2)" filter="url(#b2_5)"/><g clip-path="url(#wk1)"><path d="M1008 762C1010.5 770.67 1014.67 795 1023 814C1031.33 833 1045.33 855.33 1058 876C1070.67 896.67 1084.17 917.33 1099 938C1113.83 958.67 1129.83 980.17 1147 1000C1164.17 1019.83 1184.83 1040.67 1202 1057C1219.17 1073.33 1242 1091.17 1250 1098" fill="none" stroke="url(#g7)" stroke-width="46" filter="url(#b9)"/></g></g><path d="M591.2 759.57C592.35 737.84 603.78 703.31 618.65 684.1C633.51 664.89 660.95 650.02 680.39 644.31C699.83 638.59 716.98 643.16 735.28 649.8C753.57 656.43 775.3 671.52 790.16 684.1C805.03 696.68 816.23 710.4 824.47 725.26C832.7 740.13 839.56 757.28 839.56 773.29C839.56 789.3 833.84 807.59 824.47 821.31C815.09 835.04 800.46 847.61 783.3 855.62C766.15 863.62 742.14 869.34 721.56 869.34C700.98 869.34 678.11 864.77 659.81 855.62C641.52 846.47 623.22 830.46 611.79 814.45C600.35 798.44 590.06 781.29 591.2 759.57Z" fill="#fff200" filter="url(#b3_5)"/><circle cx="713" cy="761" r="9" fill="#80ff80" filter="url(#b3)"/><circle cx="1011" cy="757" r="4.5" fill="#faff05" filter="url(#b1_5)"/></g>
<g transform="translate(654,4) scale(0.31707)" clip-path="url(#c01)"><rect x="-20" y="-20" width="1560" height="1560" fill="url(#g8)"/><rect x="1020" y="400" width="1200" height="1200" fill="url(#g9)"/><path d="M473.26 697.8C475.34 684.49 479.09 664.53 488.23 647.9C497.38 631.27 513.18 612.14 528.15 598C543.12 583.87 561.41 571.39 578.05 563.08C594.68 554.76 611.31 549.36 627.94 548.11C644.57 546.86 662.87 548.94 677.84 555.59C692.81 562.25 706.94 575.97 717.75 588.02C728.57 600.08 736.88 612.97 742.7 627.94C748.52 642.91 747.69 662.87 752.68 677.84C757.67 692.81 762.66 705.28 772.64 717.75C782.62 730.23 799.25 739.38 812.56 752.68C825.86 765.99 841.25 782.62 852.47 797.59C863.7 812.56 874.93 828.36 879.92 842.49C884.91 856.63 886.15 868.27 882.41 882.41C878.67 896.55 868.27 915.68 857.46 927.32C846.65 938.96 831.68 947.28 817.55 952.27C803.41 957.26 788.44 958.92 772.64 957.26C756.84 955.59 740.21 950.6 722.74 942.29C705.28 933.97 686.99 920.67 667.86 907.36C648.73 894.05 627.94 876.59 607.98 862.45C588.02 848.32 566.4 837.51 548.11 822.54C529.81 807.57 510.27 788.44 498.21 772.64C486.15 756.84 479.92 740.21 475.76 727.73C471.6 715.26 471.19 711.1 473.26 697.8Z" fill="none" stroke="#ff3d00" stroke-width="110" stroke-linejoin="round" opacity="0.8" filter="url(#b28)"/><path d="M974.12 754.96C972.04 774.18 973.29 806.92 972.25 836.01C971.21 865.11 969.96 898.36 967.88 929.54C965.8 960.71 961.86 991.89 959.78 1023.06C957.7 1054.24 955.93 1085.41 955.41 1116.59C954.89 1147.76 955.41 1178.94 956.66 1210.11C957.91 1241.29 960.3 1272.46 962.89 1303.63C965.49 1334.81 968.61 1365.98 972.25 1397.16C975.88 1428.33 981.08 1463.67 984.72 1490.68C988.35 1517.7 893.79 1547.84 994.07 1559.27C1094.35 1570.7 1499.1 1586.29 1586.39 1559.27C1673.68 1532.25 1533.39 1434.57 1517.81 1397.16C1502.22 1359.75 1504.3 1360.79 1492.87 1334.81C1481.43 1308.83 1464.81 1274.54 1449.22 1241.29C1433.63 1208.03 1415.97 1169.58 1399.34 1135.29C1382.71 1101 1366.09 1066.71 1349.46 1035.53C1332.84 1004.36 1316.21 975.26 1299.58 948.24C1282.96 921.22 1266.33 896.28 1249.7 873.42C1233.08 850.56 1216.45 830.3 1199.82 811.07C1183.2 791.85 1166.57 773.14 1149.94 758.08C1133.32 743.01 1116.69 730.02 1100.06 720.67C1083.44 711.31 1064.73 704.77 1050.18 701.96C1035.64 699.16 1023.69 700.71 1012.77 703.83C1001.86 706.95 991.16 712.15 984.72 720.67C978.27 729.19 976.2 735.73 974.12 754.96Z" fill="url(#g10)" filter="url(#b3)"/><g clip-path="url(#wk2)"><path d="M974.12 754.96C973.81 768.47 973.29 806.92 972.25 836.01C971.21 865.11 969.96 898.36 967.88 929.54C965.8 960.71 961.86 991.89 959.78 1023.06C957.7 1054.24 955.93 1085.41 955.41 1116.59C954.89 1147.76 955.41 1178.94 956.66 1210.11C957.91 1241.29 960.3 1272.46 962.89 1303.63C965.49 1334.81 968.61 1365.98 972.25 1397.16C975.88 1428.33 981.08 1463.67 984.72 1490.68C988.35 1517.7 992.51 1547.84 994.07 1559.27" fill="none" stroke="url(#g11)" stroke-width="70" filter="url(#b14)"/></g><path d="M473.26 697.8C475.34 684.49 479.09 664.53 488.23 647.9C497.38 631.27 513.18 612.14 528.15 598C543.12 583.87 561.41 571.39 578.05 563.08C594.68 554.76 611.31 549.36 627.94 548.11C644.57 546.86 662.87 548.94 677.84 555.59C692.81 562.25 706.94 575.97 717.75 588.02C728.57 600.08 736.88 612.97 742.7 627.94C748.52 642.91 747.69 662.87 752.68 677.84C757.67 692.81 762.66 705.28 772.64 717.75C782.62 730.23 799.25 739.38 812.56 752.68C825.86 765.99 841.25 782.62 852.47 797.59C863.7 812.56 874.93 828.36 879.92 842.49C884.91 856.63 886.15 868.27 882.41 882.41C878.67 896.55 868.27 915.68 857.46 927.32C846.65 938.96 831.68 947.28 817.55 952.27C803.41 957.26 788.44 958.92 772.64 957.26C756.84 955.59 740.21 950.6 722.74 942.29C705.28 933.97 686.99 920.67 667.86 907.36C648.73 894.05 627.94 876.59 607.98 862.45C588.02 848.32 566.4 837.51 548.11 822.54C529.81 807.57 510.27 788.44 498.21 772.64C486.15 756.84 479.92 740.21 475.76 727.73C471.6 715.26 471.19 711.1 473.26 697.8Z" fill="#adff52" stroke="#fffa00" stroke-width="5" filter="url(#b3)"/><circle cx="667.86" cy="755.18" r="11" fill="#2effd1" filter="url(#b5)"/><circle cx="1007.79" cy="758.08" r="4.5" fill="#ffdb00" filter="url(#b1_5)"/></g>
<g transform="translate(1135,4) scale(0.31707)" clip-path="url(#c02)"><rect x="-20" y="-20" width="1560" height="1560" fill="url(#g12)"/><rect x="1017" y="-500" width="1000" height="1000" fill="url(#g13)"/><rect x="900" y="-140" width="1400" height="1400" fill="url(#g14)"/><path d="M-40 700C-36 644.8 -24.27 514.93 -10 466C4.27 417.07 43.53 365.8 67 333C90.47 300.2 135.07 244 166 220C196.93 196 263.4 165 299 153C334.6 141 397.4 131.73 433 130C468.6 128.27 530.53 132.53 566 140C601.47 147.47 666.2 169.2 699 186C731.8 202.8 788.13 242 812 266C835.87 290 865.6 339.33 878 366C890.4 392.67 901.4 439.33 905 466C908.6 492.67 906.33 542.8 905 566C903.67 589.2 891.67 629.07 895 640C898.33 650.93 917.33 651.93 930 648C942.67 644.07 973 617.03 990 610.5C1007 603.97 1039.5 599 1057.5 599C1075.5 599 1106 603.03 1125 610.5C1144 617.97 1181.07 640 1200 655C1218.93 670 1250.07 703 1267 723C1283.93 743 1312.07 781.07 1327 805C1341.93 828.93 1367 875.57 1379 902.5C1391 929.43 1408.47 977.07 1417 1007C1425.53 1036.93 1438.07 1096.07 1443 1127C1447.93 1157.93 1451.47 1209.07 1454 1239C1456.53 1268.93 1460 1321.5 1462 1351.5C1464 1381.5 1467.67 1436.2 1469 1464C1470.33 1491.8 1471.6 1563.2 1472 1560C1472.4 1556.8 1494.93 1454.67 1472 1440C1449.07 1425.33 1349.6 1452 1300 1450C1250.4 1448 1146.67 1433.67 1100 1425C1053.33 1416.33 987.33 1396.33 950 1385C912.67 1373.67 853.53 1345.33 820 1340C786.47 1334.67 730.23 1342.07 698.5 1345C666.77 1347.93 613 1360.99 582 1362C551 1363.01 497.07 1358.51 466 1352.6C434.93 1346.69 377.8 1332.45 349 1317.7C320.2 1302.95 273.2 1267.61 250 1242C226.8 1216.39 193.67 1160.53 175 1125.6C156.33 1090.67 129.33 1010.08 110 980C90.67 949.92 50 913.33 30 900C10 886.67 -30.67 906.67 -40 880C-49.33 853.33 -44 755.2 -40 700Z" fill="#ffff00" stroke="#ffff00" stroke-width="80" stroke-linejoin="round" filter="url(#b14)"/><path d="M-40 700C-36 644.8 -24.27 514.93 -10 466C4.27 417.07 43.53 365.8 67 333C90.47 300.2 135.07 244 166 220C196.93 196 263.4 165 299 153C334.6 141 397.4 131.73 433 130C468.6 128.27 530.53 132.53 566 140C601.47 147.47 666.2 169.2 699 186C731.8 202.8 788.13 242 812 266C835.87 290 865.6 339.33 878 366C890.4 392.67 901.4 439.33 905 466C908.6 492.67 906.33 542.8 905 566C903.67 589.2 891.67 629.07 895 640C898.33 650.93 917.33 651.93 930 648C942.67 644.07 973 617.03 990 610.5C1007 603.97 1039.5 599 1057.5 599C1075.5 599 1106 603.03 1125 610.5C1144 617.97 1181.07 640 1200 655C1218.93 670 1250.07 703 1267 723C1283.93 743 1312.07 781.07 1327 805C1341.93 828.93 1367 875.57 1379 902.5C1391 929.43 1408.47 977.07 1417 1007C1425.53 1036.93 1438.07 1096.07 1443 1127C1447.93 1157.93 1451.47 1209.07 1454 1239C1456.53 1268.93 1460 1321.5 1462 1351.5C1464 1381.5 1467.67 1436.2 1469 1464C1470.33 1491.8 1471.6 1563.2 1472 1560C1472.4 1556.8 1494.93 1454.67 1472 1440C1449.07 1425.33 1349.6 1452 1300 1450C1250.4 1448 1146.67 1433.67 1100 1425C1053.33 1416.33 987.33 1396.33 950 1385C912.67 1373.67 853.53 1345.33 820 1340C786.47 1334.67 730.23 1342.07 698.5 1345C666.77 1347.93 613 1360.99 582 1362C551 1363.01 497.07 1358.51 466 1352.6C434.93 1346.69 377.8 1332.45 349 1317.7C320.2 1302.95 273.2 1267.61 250 1242C226.8 1216.39 193.67 1160.53 175 1125.6C156.33 1090.67 129.33 1010.08 110 980C90.67 949.92 50 913.33 30 900C10 886.67 -30.67 906.67 -40 880C-49.33 853.33 -44 755.2 -40 700Z" fill="#ffde00" stroke="#ffde00" stroke-width="20" stroke-linejoin="round" filter="url(#b14)"/><rect x="700" y="1110" width="900" height="900" fill="url(#g15)"/><rect x="920" y="820" width="660" height="660" fill="url(#g16)"/><path d="M1468 1000C1480 1200 1482 1400 1486 1530L1560 1530L1560 1000Z" fill="#61ff9e" filter="url(#b10)"/><rect x="1140" y="1080" width="840" height="840" fill="url(#g17)"/><rect x="460" y="540" width="880" height="880" fill="url(#g18)"/><rect x="760" y="630" width="400" height="400" fill="url(#g19)"/><path d="M890 770C891.17 760.83 889.5 733 897 715C904.5 697 919.5 676.5 935 662C950.5 647.5 969.67 635.33 990 628C1010.33 620.67 1035.33 617.67 1057 618C1078.67 618.33 1097.83 621 1120 630C1142.17 639 1168.33 654.5 1190 672C1211.67 689.5 1230.83 711.17 1250 735C1269.17 758.83 1288.33 786.67 1305 815C1321.67 843.33 1336.67 872.5 1350 905C1363.33 937.5 1375.83 974.17 1385 1010C1394.17 1045.83 1401.67 1101.67 1405 1120" fill="none" stroke="url(#g20)" stroke-width="72" stroke-linecap="round" filter="url(#b8)"/><rect x="872.5" y="640" width="250" height="250" fill="url(#g21)"/><rect x="973.5" y="724" width="80" height="80" fill="url(#g22)"/><rect x="380" y="480" width="220" height="220" fill="url(#g23)"/><rect x="340" y="800" width="260" height="260" fill="url(#g24)"/><rect x="380" y="640" width="240" height="240" fill="url(#g25)"/><rect x="469" y="716" width="84" height="84" fill="url(#g26)"/><path d="M143.06 465.78C143.06 442.49 148.05 420.31 156.37 399.24C164.69 378.17 176.89 357.1 192.97 339.35C209.05 321.61 229.56 306.08 252.85 292.78C276.14 279.47 303.87 267.82 332.7 259.51C361.53 251.19 394.8 245.64 425.86 242.87C456.91 240.1 487.96 239.54 519.01 242.87C550.06 246.2 583.33 253.41 612.17 262.83C641 272.26 668.73 284.46 692.02 299.43C715.3 314.4 735.27 332.7 751.9 352.66C768.54 372.62 782.4 395.91 791.83 419.2C801.25 442.49 806.24 468 808.46 492.4C810.68 516.79 810.12 542.3 805.13 565.59C800.14 588.88 789.61 613.28 778.52 632.13C767.43 650.98 749.68 670.94 738.59 678.71C727.5 686.47 720.85 685.36 711.98 678.71C703.11 672.05 697.56 655.42 685.36 638.78C673.16 622.15 655.42 596.64 638.78 578.9C622.15 561.15 604.4 543.96 585.55 532.32C566.7 520.68 544.52 512.36 525.67 509.03C506.81 505.7 487.96 507.37 472.43 512.36C456.91 517.35 444.71 527.88 432.51 538.97C420.31 550.06 412.55 564.48 399.24 578.9C385.93 593.32 369.3 613.83 352.66 625.48C336.03 637.12 317.17 646.55 299.43 648.76C281.69 650.98 263.94 647.1 246.2 638.78C228.45 630.47 207.94 615.5 192.97 598.86C177.99 582.23 164.69 561.15 156.37 538.97C148.05 516.79 143.06 489.07 143.06 465.78Z" fill="#ffff00" stroke="#fcff03" stroke-width="96" stroke-linejoin="round" filter="url(#b12)"/><path d="M143.06 465.78C143.06 442.49 148.05 420.31 156.37 399.24C164.69 378.17 176.89 357.1 192.97 339.35C209.05 321.61 229.56 306.08 252.85 292.78C276.14 279.47 303.87 267.82 332.7 259.51C361.53 251.19 394.8 245.64 425.86 242.87C456.91 240.1 487.96 239.54 519.01 242.87C550.06 246.2 583.33 253.41 612.17 262.83C641 272.26 668.73 284.46 692.02 299.43C715.3 314.4 735.27 332.7 751.9 352.66C768.54 372.62 782.4 395.91 791.83 419.2C801.25 442.49 806.24 468 808.46 492.4C810.68 516.79 810.12 542.3 805.13 565.59C800.14 588.88 789.61 613.28 778.52 632.13C767.43 650.98 749.68 670.94 738.59 678.71C727.5 686.47 720.85 685.36 711.98 678.71C703.11 672.05 697.56 655.42 685.36 638.78C673.16 622.15 655.42 596.64 638.78 578.9C622.15 561.15 604.4 543.96 585.55 532.32C566.7 520.68 544.52 512.36 525.67 509.03C506.81 505.7 487.96 507.37 472.43 512.36C456.91 517.35 444.71 527.88 432.51 538.97C420.31 550.06 412.55 564.48 399.24 578.9C385.93 593.32 369.3 613.83 352.66 625.48C336.03 637.12 317.17 646.55 299.43 648.76C281.69 650.98 263.94 647.1 246.2 638.78C228.45 630.47 207.94 615.5 192.97 598.86C177.99 582.23 164.69 561.15 156.37 538.97C148.05 516.79 143.06 489.07 143.06 465.78Z" fill="#80ff80" stroke="#80ff80" stroke-width="14" stroke-linejoin="round" filter="url(#b7)"/><path d="M143.06 465.78C143.06 442.49 148.05 420.31 156.37 399.24C164.69 378.17 176.89 357.1 192.97 339.35C209.05 321.61 229.56 306.08 252.85 292.78C276.14 279.47 303.87 267.82 332.7 259.51C361.53 251.19 394.8 245.64 425.86 242.87C456.91 240.1 487.96 239.54 519.01 242.87C550.06 246.2 583.33 253.41 612.17 262.83C641 272.26 668.73 284.46 692.02 299.43C715.3 314.4 735.27 332.7 751.9 352.66C768.54 372.62 782.4 395.91 791.83 419.2C801.25 442.49 806.24 468 808.46 492.4C810.68 516.79 810.12 542.3 805.13 565.59C800.14 588.88 789.61 613.28 778.52 632.13C767.43 650.98 749.68 670.94 738.59 678.71C727.5 686.47 720.85 685.36 711.98 678.71C703.11 672.05 697.56 655.42 685.36 638.78C673.16 622.15 655.42 596.64 638.78 578.9C622.15 561.15 604.4 543.96 585.55 532.32C566.7 520.68 544.52 512.36 525.67 509.03C506.81 505.7 487.96 507.37 472.43 512.36C456.91 517.35 444.71 527.88 432.51 538.97C420.31 550.06 412.55 564.48 399.24 578.9C385.93 593.32 369.3 613.83 352.66 625.48C336.03 637.12 317.17 646.55 299.43 648.76C281.69 650.98 263.94 647.1 246.2 638.78C228.45 630.47 207.94 615.5 192.97 598.86C177.99 582.23 164.69 561.15 156.37 538.97C148.05 516.79 143.06 489.07 143.06 465.78Z" fill="#08fff7" filter="url(#b9)"/><path d="M285.23 1073.2C284.26 1052.82 286.2 1024.69 291.05 1003.34C295.9 982 305.6 958.23 314.33 945.13C323.07 932.04 332.77 924.76 343.44 924.76C354.11 924.76 365.75 936.89 378.36 945.13C390.98 953.38 404.56 967.93 419.11 974.24C433.66 980.55 450.16 983.94 465.68 982.97C481.2 982 496.73 975.69 512.25 968.42C527.77 961.14 543.29 946.1 558.82 939.31C574.34 932.52 592.77 924.76 605.38 927.67C618 930.58 626.24 940.28 634.49 956.78C642.74 973.27 650.98 1003.34 654.86 1026.63C658.74 1049.91 661.17 1073.2 657.77 1096.48C654.38 1119.76 645.16 1144.99 634.49 1166.33C623.82 1187.68 609.26 1208.05 593.74 1224.54C578.22 1241.03 559.79 1256.07 541.35 1265.29C522.92 1274.51 501.58 1278.87 483.14 1279.84C464.71 1280.81 448.22 1279.36 430.75 1271.11C413.29 1262.86 394.86 1246.86 378.36 1230.36C361.87 1213.87 345.38 1189.62 331.8 1172.15C318.21 1154.69 304.63 1142.08 296.87 1125.59C289.11 1109.09 286.2 1093.57 285.23 1073.2Z" fill="#ffff00" stroke="#fcff03" stroke-width="96" stroke-linejoin="round" filter="url(#b12)"/><path d="M285.23 1073.2C284.26 1052.82 286.2 1024.69 291.05 1003.34C295.9 982 305.6 958.23 314.33 945.13C323.07 932.04 332.77 924.76 343.44 924.76C354.11 924.76 365.75 936.89 378.36 945.13C390.98 953.38 404.56 967.93 419.11 974.24C433.66 980.55 450.16 983.94 465.68 982.97C481.2 982 496.73 975.69 512.25 968.42C527.77 961.14 543.29 946.1 558.82 939.31C574.34 932.52 592.77 924.76 605.38 927.67C618 930.58 626.24 940.28 634.49 956.78C642.74 973.27 650.98 1003.34 654.86 1026.63C658.74 1049.91 661.17 1073.2 657.77 1096.48C654.38 1119.76 645.16 1144.99 634.49 1166.33C623.82 1187.68 609.26 1208.05 593.74 1224.54C578.22 1241.03 559.79 1256.07 541.35 1265.29C522.92 1274.51 501.58 1278.87 483.14 1279.84C464.71 1280.81 448.22 1279.36 430.75 1271.11C413.29 1262.86 394.86 1246.86 378.36 1230.36C361.87 1213.87 345.38 1189.62 331.8 1172.15C318.21 1154.69 304.63 1142.08 296.87 1125.59C289.11 1109.09 286.2 1093.57 285.23 1073.2Z" fill="#80ff80" stroke="#80ff80" stroke-width="14" stroke-linejoin="round" filter="url(#b7)"/><path d="M285.23 1073.2C284.26 1052.82 286.2 1024.69 291.05 1003.34C295.9 982 305.6 958.23 314.33 945.13C323.07 932.04 332.77 924.76 343.44 924.76C354.11 924.76 365.75 936.89 378.36 945.13C390.98 953.38 404.56 967.93 419.11 974.24C433.66 980.55 450.16 983.94 465.68 982.97C481.2 982 496.73 975.69 512.25 968.42C527.77 961.14 543.29 946.1 558.82 939.31C574.34 932.52 592.77 924.76 605.38 927.67C618 930.58 626.24 940.28 634.49 956.78C642.74 973.27 650.98 1003.34 654.86 1026.63C658.74 1049.91 661.17 1073.2 657.77 1096.48C654.38 1119.76 645.16 1144.99 634.49 1166.33C623.82 1187.68 609.26 1208.05 593.74 1224.54C578.22 1241.03 559.79 1256.07 541.35 1265.29C522.92 1274.51 501.58 1278.87 483.14 1279.84C464.71 1280.81 448.22 1279.36 430.75 1271.11C413.29 1262.86 394.86 1246.86 378.36 1230.36C361.87 1213.87 345.38 1189.62 331.8 1172.15C318.21 1154.69 304.63 1142.08 296.87 1125.59C289.11 1109.09 286.2 1093.57 285.23 1073.2Z" fill="#08fff7" filter="url(#b9)"/><circle cx="511" cy="758" r="4" fill="#faff05" filter="url(#b1_5)"/><circle cx="1007.5" cy="760" r="4.5" fill="#faff05" filter="url(#b1_5)"/></g>
<g transform="translate(1616,4) scale(0.31707)" clip-path="url(#c03)"><rect x="-20" y="-20" width="1560" height="1560" fill="url(#g27)"/><rect x="-480" y="430" width="840" height="840" fill="url(#g28)"/><rect x="-200" y="800" width="1800" height="1800" fill="url(#g29)"/><rect x="-240" y="-320" width="1240" height="1240" fill="url(#g30)"/><rect x="960" y="-100" width="660" height="660" fill="url(#g31)"/><rect x="-160" y="50" width="1600" height="1600" fill="url(#g32)"/><rect x="960" y="550" width="660" height="660" fill="url(#g33)"/><rect x="920" y="450" width="340" height="340" fill="url(#g34)"/><rect x="665" y="460" width="640" height="640" fill="url(#g35)"/><rect x="895" y="668" width="234" height="234" fill="url(#g36)"/><path d="M-60 -60L-60 150L0 153C11.08 148.5 44.33 134.83 66.5 126C88.67 117.17 110.75 106.58 133 100C155.25 93.42 177.83 85.42 200 86.5C222.17 87.58 243.83 98.75 266 106.5C288.17 114.25 310.83 131.92 333 133C355.17 134.08 376.83 118.5 399 113C421.17 107.5 443.83 102.17 466 100C488.17 97.83 509.83 95.67 532 100C554.17 104.33 576.83 113.83 599 126C621.17 138.17 642.83 154 665 173C687.17 192 712 216.67 732 240C752 263.33 769.5 292 785 313C800.5 334 810.83 352.83 825 366C839.17 379.17 855.83 384.67 870 392C884.17 399.33 897.75 402.17 910 410C922.25 417.83 932.33 426.33 943.5 439C954.67 451.67 964.75 474.33 977 486C989.25 497.67 1004.83 512.33 1017 509C1029.17 505.67 1043.33 484.33 1050 466C1056.67 447.67 1058.17 423.5 1057 399C1055.83 374.5 1049.67 346.67 1043 319C1036.33 291.33 1025.83 261.83 1017 233C1008.17 204.17 998.92 173.75 990 146C981.08 118.25 971.25 90.83 963.5 66.5C955.75 42.17 946.83 11.08 943.5 0L925 -60Z" fill="#1affe5" stroke="#1affe5" stroke-width="130" stroke-linejoin="round" opacity="0.85" filter="url(#b30)"/><path d="M-60 -60L-60 150L0 153C11.08 148.5 44.33 134.83 66.5 126C88.67 117.17 110.75 106.58 133 100C155.25 93.42 177.83 85.42 200 86.5C222.17 87.58 243.83 98.75 266 106.5C288.17 114.25 310.83 131.92 333 133C355.17 134.08 376.83 118.5 399 113C421.17 107.5 443.83 102.17 466 100C488.17 97.83 509.83 95.67 532 100C554.17 104.33 576.83 113.83 599 126C621.17 138.17 642.83 154 665 173C687.17 192 712 216.67 732 240C752 263.33 769.5 292 785 313C800.5 334 810.83 352.83 825 366C839.17 379.17 855.83 384.67 870 392C884.17 399.33 897.75 402.17 910 410C922.25 417.83 932.33 426.33 943.5 439C954.67 451.67 964.75 474.33 977 486C989.25 497.67 1004.83 512.33 1017 509C1029.17 505.67 1043.33 484.33 1050 466C1056.67 447.67 1058.17 423.5 1057 399C1055.83 374.5 1049.67 346.67 1043 319C1036.33 291.33 1025.83 261.83 1017 233C1008.17 204.17 998.92 173.75 990 146C981.08 118.25 971.25 90.83 963.5 66.5C955.75 42.17 946.83 11.08 943.5 0L925 -60Z" fill="#00ffff" stroke="#00ffff" stroke-width="44" stroke-linejoin="round" filter="url(#b11)"/><path d="M-60 -60L-60 150L0 153C11.08 148.5 44.33 134.83 66.5 126C88.67 117.17 110.75 106.58 133 100C155.25 93.42 177.83 85.42 200 86.5C222.17 87.58 243.83 98.75 266 106.5C288.17 114.25 310.83 131.92 333 133C355.17 134.08 376.83 118.5 399 113C421.17 107.5 443.83 102.17 466 100C488.17 97.83 509.83 95.67 532 100C554.17 104.33 576.83 113.83 599 126C621.17 138.17 642.83 154 665 173C687.17 192 712 216.67 732 240C752 263.33 769.5 292 785 313C800.5 334 810.83 352.83 825 366C839.17 379.17 855.83 384.67 870 392C884.17 399.33 897.75 402.17 910 410C922.25 417.83 932.33 426.33 943.5 439C954.67 451.67 964.75 474.33 977 486C989.25 497.67 1004.83 512.33 1017 509C1029.17 505.67 1043.33 484.33 1050 466C1056.67 447.67 1058.17 423.5 1057 399C1055.83 374.5 1049.67 346.67 1043 319C1036.33 291.33 1025.83 261.83 1017 233C1008.17 204.17 998.92 173.75 990 146C981.08 118.25 971.25 90.83 963.5 66.5C955.75 42.17 946.83 11.08 943.5 0L925 -60Z" fill="#0073ff" filter="url(#b10)"/><rect x="610" y="-60" width="520" height="520" fill="url(#g37)"/><rect x="-250" y="-510" width="1000" height="1000" fill="url(#g38)"/><path d="M985 -20C1040 100 1095 260 1105 400C1108 450 1100 480 1085 505" fill="none" stroke="#adff52" stroke-width="60" filter="url(#b16)" opacity="0.9"/><path d="M-60 1285C-38.67 1245.27 68 1271.73 100 1262C132 1252.27 164.67 1214.93 180 1212C195.33 1209.07 211.67 1228.27 215 1240C218.33 1251.73 213.67 1281.33 205 1300C196.33 1318.67 165.33 1360 150 1380C134.67 1400 104.67 1428.67 90 1450C75.33 1471.33 60 1525.33 40 1540C20 1554.67 -46.67 1594 -60 1560C-73.33 1526 -81.33 1324.73 -60 1285Z" fill="#1affe5" stroke="#1affe5" stroke-width="120" stroke-linejoin="round" opacity="0.85" filter="url(#b26)"/><path d="M-60 1285C-38.67 1245.27 68 1271.73 100 1262C132 1252.27 164.67 1214.93 180 1212C195.33 1209.07 211.67 1228.27 215 1240C218.33 1251.73 213.67 1281.33 205 1300C196.33 1318.67 165.33 1360 150 1380C134.67 1400 104.67 1428.67 90 1450C75.33 1471.33 60 1525.33 40 1540C20 1554.67 -46.67 1594 -60 1560C-73.33 1526 -81.33 1324.73 -60 1285Z" fill="#00ffff" stroke="#00ffff" stroke-width="44" stroke-linejoin="round" filter="url(#b11)"/><path d="M-60 1285C-38.67 1245.27 68 1271.73 100 1262C132 1252.27 164.67 1214.93 180 1212C195.33 1209.07 211.67 1228.27 215 1240C218.33 1251.73 213.67 1281.33 205 1300C196.33 1318.67 165.33 1360 150 1380C134.67 1400 104.67 1428.67 90 1450C75.33 1471.33 60 1525.33 40 1540C20 1554.67 -46.67 1594 -60 1560C-73.33 1526 -81.33 1324.73 -60 1285Z" fill="#008fff" filter="url(#b10)"/><rect x="75" y="572" width="400" height="400" fill="url(#g39)"/><circle cx="266" cy="758.6" r="4" fill="#faff05" filter="url(#b1_5)"/><circle cx="1002" cy="760" r="4.5" fill="#80ff80" filter="url(#b1_5)"/></g>
<g transform="translate(173,763) scale(0.31707)" clip-path="url(#c10)"><rect x="-20" y="-20" width="1560" height="1560" fill="url(#g40)"/><path d="M591.2 759.57C590.63 740.13 598.06 713.83 608.36 697.82C618.65 681.81 636.37 670.61 652.95 663.52C669.53 656.43 688.4 654.71 707.84 655.28C727.27 655.86 751.86 658.72 769.58 666.95C787.31 675.18 802.74 689.25 814.18 704.68C825.61 720.12 836.47 742.42 838.19 759.57C839.9 776.72 832.47 794.44 824.47 807.59C816.46 820.74 801.6 831.6 790.16 838.47C778.73 845.33 769.58 845.33 755.86 848.76C742.14 852.19 724.99 859.05 707.84 859.05C690.68 859.05 668.96 856.19 652.95 848.76C636.94 841.32 622.08 829.32 611.79 814.45C601.49 799.59 591.78 779.01 591.2 759.57Z" fill="#fff200" filter="url(#b3_5)"/><circle cx="713" cy="761" r="9" fill="#80ff80" filter="url(#b3)"/><ellipse cx="1047.44" cy="759.57" rx="35" ry="22" fill="url(#g41)" filter="url(#b3)"/><circle cx="1011" cy="757" r="4.5" fill="#faff05" filter="url(#b1_5)"/></g>
<g transform="translate(654,763) scale(0.31707)" clip-path="url(#c11)"><rect x="-20" y="-20" width="1560" height="1560" fill="url(#g42)"/><ellipse cx="653" cy="758" rx="225" ry="205" fill="none" stroke="#ff3800" stroke-width="100" opacity="0.85" filter="url(#b30)"/><ellipse cx="1059.63" cy="760.22" rx="87" ry="70" fill="url(#g43)" filter="url(#b3)"/><rect x="985.23" y="720.72" width="80" height="80" fill="url(#g44)"/><circle cx="1011.23" cy="758.72" r="4.5" fill="#ffdb00" filter="url(#b1_5)"/><path d="M473.28 787.66C474.11 776.02 478.27 761.05 485.75 747.74C493.24 734.43 505.3 718.63 518.19 707.82C531.08 697.01 548.96 690.35 563.1 682.87C577.24 675.38 589.72 668.31 603.02 662.91C616.33 657.5 631.3 651.26 642.95 650.43C654.59 649.6 663.74 654.17 672.89 657.92C682.04 661.66 687.86 670.39 697.84 672.89C707.82 675.38 720.29 673.3 732.77 672.89C745.25 672.47 761.88 667.9 772.69 670.39C783.5 672.89 790.99 678.29 797.64 687.86C804.3 697.42 809.29 713.64 812.61 727.78C815.94 741.92 817.6 760.22 817.6 772.69C817.6 785.17 817.6 794.73 812.61 802.63C807.62 810.54 796.81 818.44 787.66 820.1C778.51 821.76 768.53 817.19 757.72 812.61C746.91 808.04 734.43 799.31 722.79 792.65C711.15 786 697.84 776.02 687.86 772.69C677.88 769.37 670.39 767.7 662.91 772.69C655.42 777.68 650.43 791.82 642.95 802.63C635.46 813.45 627.97 828.42 617.99 837.57C608.01 846.71 595.54 853.37 583.06 857.53C570.59 861.69 556.45 864.18 543.14 862.52C529.83 860.85 513.61 855.03 503.22 847.55C492.82 840.06 485.75 827.59 480.76 817.6C475.77 807.62 472.44 799.31 473.28 787.66Z" fill="#b3ff4c" stroke="#fffa00" stroke-width="5" filter="url(#b3)"/><rect x="646.89" y="729.23" width="52" height="52" fill="url(#g45)"/></g>
<g transform="translate(1135,763) scale(0.31707)" clip-path="url(#c12)"><rect x="-20" y="-20" width="1560" height="1560" fill="url(#g46)"/><ellipse cx="430" cy="750" rx="480" ry="424" fill="url(#g47)" filter="url(#b16)"/><rect x="422" y="691" width="400" height="400" fill="url(#g48)"/><ellipse cx="1105.5" cy="759.3" rx="228" ry="197" fill="#fffc00" filter="url(#b5)"/><ellipse cx="1105.5" cy="759.3" rx="222" ry="192" fill="url(#g49)" filter="url(#b5)"/><g clip-path="url(#bub3)"><rect x="785" y="575" width="380" height="380" fill="url(#g50)"/><rect x="875" y="677" width="170" height="170" fill="url(#g51)"/><rect x="1090" y="667" width="190" height="190" fill="url(#g52)"/><rect x="990" y="710" width="100" height="100" fill="url(#g53)"/></g><rect x="410" y="665" width="170" height="170" fill="url(#g54)"/><rect x="476" y="726" width="72" height="72" fill="url(#g55)"/><path d="M505 795C480 830 450 845 420 850" fill="none" stroke="#ff4c00" stroke-width="18" stroke-linecap="round" filter="url(#b6)"/><rect x="352" y="754" width="60" height="60" fill="url(#g56)"/><rect x="562" y="697" width="56" height="56" fill="url(#g57)"/><circle cx="520" cy="768" r="6" fill="#8a0000" filter="url(#b2_5)"/><circle cx="511" cy="758" r="4" fill="#e5ff1a" filter="url(#b1_5)"/><circle cx="1007.4" cy="759.3" r="4.5" fill="#b3ff4c" filter="url(#b1_5)"/></g>
<g transform="translate(1616,763) scale(0.31707)" clip-path="url(#c13)"><rect x="-20" y="-20" width="1560" height="1560" fill="url(#g58)"/><ellipse cx="1263" cy="762" rx="408" ry="408" fill="url(#g59)" opacity="0.85" filter="url(#b16)"/><rect x="1100" y="260" width="1000" height="1000" fill="url(#g60)"/><rect x="140" y="260" width="1000" height="1000" fill="url(#g61)"/><rect x="770" y="370" width="260" height="260" fill="url(#g62)"/><rect x="770" y="880" width="260" height="260" fill="url(#g63)"/><rect x="360" y="280" width="580" height="580" fill="url(#g64)"/><rect x="495" y="377" width="340" height="340" fill="url(#g65)"/><rect x="330" y="655" width="620" height="620" fill="url(#g66)"/><rect x="450" y="785" width="400" height="400" fill="url(#g67)"/><rect x="1000" y="760" width="240" height="240" fill="url(#g68)"/><rect x="1000" y="520" width="240" height="240" fill="url(#g69)"/><rect x="685" y="560" width="400" height="400" fill="url(#g70)"/><rect x="860" y="670" width="180" height="180" fill="url(#g71)"/><rect x="985" y="663" width="190" height="190" fill="url(#g72)"/><rect x="990" y="713" width="90" height="90" fill="url(#g73)"/><rect x="8" y="528" width="500" height="500" fill="url(#g74)"/><rect x="180" y="610" width="300" height="300" fill="url(#g75)"/><rect x="138" y="645" width="240" height="240" fill="url(#g76)"/><rect x="207" y="703" width="110" height="110" fill="url(#g77)"/><circle cx="265.8" cy="757.5" r="4" fill="#faff05" filter="url(#b1_5)"/><circle cx="1002.7" cy="757.5" r="5" fill="#2effd1" filter="url(#b1_5)"/></g>
<rect x="173.3" y="603.2" width="1922.4" height="63.6" fill="url(#g78)"/>
<rect x="173.3" y="1362.2" width="1922.4" height="63.6" fill="url(#g78)"/>
<g fill="none" stroke="#000" stroke-width="2.7"><rect x="173.3" y="4.2" width="480.6" height="480.6"/><rect x="653.9" y="4.2" width="480.6" height="480.6"/><rect x="1134.5" y="4.2" width="480.6" height="480.6"/><rect x="1615.1" y="4.2" width="480.6" height="480.6"/><rect x="173.3" y="763.2" width="480.6" height="480.6"/><rect x="653.9" y="763.2" width="480.6" height="480.6"/><rect x="1134.5" y="763.2" width="480.6" height="480.6"/><rect x="1615.1" y="763.2" width="480.6" height="480.6"/><path d="M213.35 4.2L213.35 16.2M213.35 484.8L213.35 472.8M253.4 4.2L253.4 16.2M253.4 484.8L253.4 472.8M293.45 4.2L293.45 28.2M293.45 484.8L293.45 460.8M333.5 4.2L333.5 16.2M333.5 484.8L333.5 472.8M373.55 4.2L373.55 16.2M373.55 484.8L373.55 472.8M413.6 4.2L413.6 16.2M413.6 484.8L413.6 472.8M453.65 4.2L453.65 16.2M453.65 484.8L453.65 472.8M493.7 4.2L493.7 28.2M493.7 484.8L493.7 460.8M533.75 4.2L533.75 16.2M533.75 484.8L533.75 472.8M573.8 4.2L573.8 16.2M573.8 484.8L573.8 472.8M613.85 4.2L613.85 16.2M613.85 484.8L613.85 472.8M173.3 44.25L197.3 44.25M653.9 44.25L629.9 44.25M173.3 84.3L185.3 84.3M653.9 84.3L641.9 84.3M173.3 124.35L185.3 124.35M653.9 124.35L641.9 124.35M173.3 164.4L185.3 164.4M653.9 164.4L641.9 164.4M173.3 204.45L185.3 204.45M653.9 204.45L641.9 204.45M173.3 244.5L197.3 244.5M653.9 244.5L629.9 244.5M173.3 284.55L185.3 284.55M653.9 284.55L641.9 284.55M173.3 324.6L185.3 324.6M653.9 324.6L641.9 324.6M173.3 364.65L185.3 364.65M653.9 364.65L641.9 364.65M173.3 404.7L185.3 404.7M653.9 404.7L641.9 404.7M173.3 444.75L197.3 444.75M653.9 444.75L629.9 444.75M693.95 4.2L693.95 16.2M693.95 484.8L693.95 472.8M734 4.2L734 16.2M734 484.8L734 472.8M774.05 4.2L774.05 28.2M774.05 484.8L774.05 460.8M814.1 4.2L814.1 16.2M814.1 484.8L814.1 472.8M854.15 4.2L854.15 16.2M854.15 484.8L854.15 472.8M894.2 4.2L894.2 16.2M894.2 484.8L894.2 472.8M934.25 4.2L934.25 16.2M934.25 484.8L934.25 472.8M974.3 4.2L974.3 28.2M974.3 484.8L974.3 460.8M1014.35 4.2L1014.35 16.2M1014.35 484.8L1014.35 472.8M1054.4 4.2L1054.4 16.2M1054.4 484.8L1054.4 472.8M1094.45 4.2L1094.45 16.2M1094.45 484.8L1094.45 472.8M653.9 44.25L677.9 44.25M1134.5 44.25L1110.5 44.25M653.9 84.3L665.9 84.3M1134.5 84.3L1122.5 84.3M653.9 124.35L665.9 124.35M1134.5 124.35L1122.5 124.35M653.9 164.4L665.9 164.4M1134.5 164.4L1122.5 164.4M653.9 204.45L665.9 204.45M1134.5 204.45L1122.5 204.45M653.9 244.5L677.9 244.5M1134.5 244.5L1110.5 244.5M653.9 284.55L665.9 284.55M1134.5 284.55L1122.5 284.55M653.9 324.6L665.9 324.6M1134.5 324.6L1122.5 324.6M653.9 364.65L665.9 364.65M1134.5 364.65L1122.5 364.65M653.9 404.7L665.9 404.7M1134.5 404.7L1122.5 404.7M653.9 444.75L677.9 444.75M1134.5 444.75L1110.5 444.75M1174.55 4.2L1174.55 16.2M1174.55 484.8L1174.55 472.8M1214.6 4.2L1214.6 16.2M1214.6 484.8L1214.6 472.8M1254.65 4.2L1254.65 28.2M1254.65 484.8L1254.65 460.8M1294.7 4.2L1294.7 16.2M1294.7 484.8L1294.7 472.8M1334.75 4.2L1334.75 16.2M1334.75 484.8L1334.75 472.8M1374.8 4.2L1374.8 16.2M1374.8 484.8L1374.8 472.8M1414.85 4.2L1414.85 16.2M1414.85 484.8L1414.85 472.8M1454.9 4.2L1454.9 28.2M1454.9 484.8L1454.9 460.8M1494.95 4.2L1494.95 16.2M1494.95 484.8L1494.95 472.8M1535 4.2L1535 16.2M1535 484.8L1535 472.8M1575.05 4.2L1575.05 16.2M1575.05 484.8L1575.05 472.8M1134.5 44.25L1158.5 44.25M1615.1 44.25L1591.1 44.25M1134.5 84.3L1146.5 84.3M1615.1 84.3L1603.1 84.3M1134.5 124.35L1146.5 124.35M1615.1 124.35L1603.1 124.35M1134.5 164.4L1146.5 164.4M1615.1 164.4L1603.1 164.4M1134.5 204.45L1146.5 204.45M1615.1 204.45L1603.1 204.45M1134.5 244.5L1158.5 244.5M1615.1 244.5L1591.1 244.5M1134.5 284.55L1146.5 284.55M1615.1 284.55L1603.1 284.55M1134.5 324.6L1146.5 324.6M1615.1 324.6L1603.1 324.6M1134.5 364.65L1146.5 364.65M1615.1 364.65L1603.1 364.65M1134.5 404.7L1146.5 404.7M1615.1 404.7L1603.1 404.7M1134.5 444.75L1158.5 444.75M1615.1 444.75L1591.1 444.75M1655.15 4.2L1655.15 16.2M1655.15 484.8L1655.15 472.8M1695.2 4.2L1695.2 16.2M1695.2 484.8L1695.2 472.8M1735.25 4.2L1735.25 28.2M1735.25 484.8L1735.25 460.8M1775.3 4.2L1775.3 16.2M1775.3 484.8L1775.3 472.8M1815.35 4.2L1815.35 16.2M1815.35 484.8L1815.35 472.8M1855.4 4.2L1855.4 16.2M1855.4 484.8L1855.4 472.8M1895.45 4.2L1895.45 16.2M1895.45 484.8L1895.45 472.8M1935.5 4.2L1935.5 28.2M1935.5 484.8L1935.5 460.8M1975.55 4.2L1975.55 16.2M1975.55 484.8L1975.55 472.8M2015.6 4.2L2015.6 16.2M2015.6 484.8L2015.6 472.8M2055.65 4.2L2055.65 16.2M2055.65 484.8L2055.65 472.8M1615.1 44.25L1639.1 44.25M2095.7 44.25L2071.7 44.25M1615.1 84.3L1627.1 84.3M2095.7 84.3L2083.7 84.3M1615.1 124.35L1627.1 124.35M2095.7 124.35L2083.7 124.35M1615.1 164.4L1627.1 164.4M2095.7 164.4L2083.7 164.4M1615.1 204.45L1627.1 204.45M2095.7 204.45L2083.7 204.45M1615.1 244.5L1639.1 244.5M2095.7 244.5L2071.7 244.5M1615.1 284.55L1627.1 284.55M2095.7 284.55L2083.7 284.55M1615.1 324.6L1627.1 324.6M2095.7 324.6L2083.7 324.6M1615.1 364.65L1627.1 364.65M2095.7 364.65L2083.7 364.65M1615.1 404.7L1627.1 404.7M2095.7 404.7L2083.7 404.7M1615.1 444.75L1639.1 444.75M2095.7 444.75L2071.7 444.75M213.35 763.2L213.35 775.2M213.35 1243.8L213.35 1231.8M253.4 763.2L253.4 775.2M253.4 1243.8L253.4 1231.8M293.45 763.2L293.45 787.2M293.45 1243.8L293.45 1219.8M333.5 763.2L333.5 775.2M333.5 1243.8L333.5 1231.8M373.55 763.2L373.55 775.2M373.55 1243.8L373.55 1231.8M413.6 763.2L413.6 775.2M413.6 1243.8L413.6 1231.8M453.65 763.2L453.65 775.2M453.65 1243.8L453.65 1231.8M493.7 763.2L493.7 787.2M493.7 1243.8L493.7 1219.8M533.75 763.2L533.75 775.2M533.75 1243.8L533.75 1231.8M573.8 763.2L573.8 775.2M573.8 1243.8L573.8 1231.8M613.85 763.2L613.85 775.2M613.85 1243.8L613.85 1231.8M173.3 803.25L197.3 803.25M653.9 803.25L629.9 803.25M173.3 843.3L185.3 843.3M653.9 843.3L641.9 843.3M173.3 883.35L185.3 883.35M653.9 883.35L641.9 883.35M173.3 923.4L185.3 923.4M653.9 923.4L641.9 923.4M173.3 963.45L185.3 963.45M653.9 963.45L641.9 963.45M173.3 1003.5L197.3 1003.5M653.9 1003.5L629.9 1003.5M173.3 1043.55L185.3 1043.55M653.9 1043.55L641.9 1043.55M173.3 1083.6L185.3 1083.6M653.9 1083.6L641.9 1083.6M173.3 1123.65L185.3 1123.65M653.9 1123.65L641.9 1123.65M173.3 1163.7L185.3 1163.7M653.9 1163.7L641.9 1163.7M173.3 1203.75L197.3 1203.75M653.9 1203.75L629.9 1203.75M693.95 763.2L693.95 775.2M693.95 1243.8L693.95 1231.8M734 763.2L734 775.2M734 1243.8L734 1231.8M774.05 763.2L774.05 787.2M774.05 1243.8L774.05 1219.8M814.1 763.2L814.1 775.2M814.1 1243.8L814.1 1231.8M854.15 763.2L854.15 775.2M854.15 1243.8L854.15 1231.8M894.2 763.2L894.2 775.2M894.2 1243.8L894.2 1231.8M934.25 763.2L934.25 775.2M934.25 1243.8L934.25 1231.8M974.3 763.2L974.3 787.2M974.3 1243.8L974.3 1219.8M1014.35 763.2L1014.35 775.2M1014.35 1243.8L1014.35 1231.8M1054.4 763.2L1054.4 775.2M1054.4 1243.8L1054.4 1231.8M1094.45 763.2L1094.45 775.2M1094.45 1243.8L1094.45 1231.8M653.9 803.25L677.9 803.25M1134.5 803.25L1110.5 803.25M653.9 843.3L665.9 843.3M1134.5 843.3L1122.5 843.3M653.9 883.35L665.9 883.35M1134.5 883.35L1122.5 883.35M653.9 923.4L665.9 923.4M1134.5 923.4L1122.5 923.4M653.9 963.45L665.9 963.45M1134.5 963.45L1122.5 963.45M653.9 1003.5L677.9 1003.5M1134.5 1003.5L1110.5 1003.5M653.9 1043.55L665.9 1043.55M1134.5 1043.55L1122.5 1043.55M653.9 1083.6L665.9 1083.6M1134.5 1083.6L1122.5 1083.6M653.9 1123.65L665.9 1123.65M1134.5 1123.65L1122.5 1123.65M653.9 1163.7L665.9 1163.7M1134.5 1163.7L1122.5 1163.7M653.9 1203.75L677.9 1203.75M1134.5 1203.75L1110.5 1203.75M1174.55 763.2L1174.55 775.2M1174.55 1243.8L1174.55 1231.8M1214.6 763.2L1214.6 775.2M1214.6 1243.8L1214.6 1231.8M1254.65 763.2L1254.65 787.2M1254.65 1243.8L1254.65 1219.8M1294.7 763.2L1294.7 775.2M1294.7 1243.8L1294.7 1231.8M1334.75 763.2L1334.75 775.2M1334.75 1243.8L1334.75 1231.8M1374.8 763.2L1374.8 775.2M1374.8 1243.8L1374.8 1231.8M1414.85 763.2L1414.85 775.2M1414.85 1243.8L1414.85 1231.8M1454.9 763.2L1454.9 787.2M1454.9 1243.8L1454.9 1219.8M1494.95 763.2L1494.95 775.2M1494.95 1243.8L1494.95 1231.8M1535 763.2L1535 775.2M1535 1243.8L1535 1231.8M1575.05 763.2L1575.05 775.2M1575.05 1243.8L1575.05 1231.8M1134.5 803.25L1158.5 803.25M1615.1 803.25L1591.1 803.25M1134.5 843.3L1146.5 843.3M1615.1 843.3L1603.1 843.3M1134.5 883.35L1146.5 883.35M1615.1 883.35L1603.1 883.35M1134.5 923.4L1146.5 923.4M1615.1 923.4L1603.1 923.4M1134.5 963.45L1146.5 963.45M1615.1 963.45L1603.1 963.45M1134.5 1003.5L1158.5 1003.5M1615.1 1003.5L1591.1 1003.5M1134.5 1043.55L1146.5 1043.55M1615.1 1043.55L1603.1 1043.55M1134.5 1083.6L1146.5 1083.6M1615.1 1083.6L1603.1 1083.6M1134.5 1123.65L1146.5 1123.65M1615.1 1123.65L1603.1 1123.65M1134.5 1163.7L1146.5 1163.7M1615.1 1163.7L1603.1 1163.7M1134.5 1203.75L1158.5 1203.75M1615.1 1203.75L1591.1 1203.75M1655.15 763.2L1655.15 775.2M1655.15 1243.8L1655.15 1231.8M1695.2 763.2L1695.2 775.2M1695.2 1243.8L1695.2 1231.8M1735.25 763.2L1735.25 787.2M1735.25 1243.8L1735.25 1219.8M1775.3 763.2L1775.3 775.2M1775.3 1243.8L1775.3 1231.8M1815.35 763.2L1815.35 775.2M1815.35 1243.8L1815.35 1231.8M1855.4 763.2L1855.4 775.2M1855.4 1243.8L1855.4 1231.8M1895.45 763.2L1895.45 775.2M1895.45 1243.8L1895.45 1231.8M1935.5 763.2L1935.5 787.2M1935.5 1243.8L1935.5 1219.8M1975.55 763.2L1975.55 775.2M1975.55 1243.8L1975.55 1231.8M2015.6 763.2L2015.6 775.2M2015.6 1243.8L2015.6 1231.8M2055.65 763.2L2055.65 775.2M2055.65 1243.8L2055.65 1231.8M1615.1 803.25L1639.1 803.25M2095.7 803.25L2071.7 803.25M1615.1 843.3L1627.1 843.3M2095.7 843.3L2083.7 843.3M1615.1 883.35L1627.1 883.35M2095.7 883.35L2083.7 883.35M1615.1 923.4L1627.1 923.4M2095.7 923.4L2083.7 923.4M1615.1 963.45L1627.1 963.45M2095.7 963.45L2083.7 963.45M1615.1 1003.5L1639.1 1003.5M2095.7 1003.5L2071.7 1003.5M1615.1 1043.55L1627.1 1043.55M2095.7 1043.55L2083.7 1043.55M1615.1 1083.6L1627.1 1083.6M2095.7 1083.6L2083.7 1083.6M1615.1 1123.65L1627.1 1123.65M2095.7 1123.65L2083.7 1123.65M1615.1 1163.7L1627.1 1163.7M2095.7 1163.7L2083.7 1163.7M1615.1 1203.75L1639.1 1203.75M2095.7 1203.75L2071.7 1203.75"/></g>
<g fill="none" stroke="#000" stroke-width="2.2"><rect x="173.3" y="603.2" width="1922.4" height="63.6"/><rect x="173.3" y="1362.2" width="1922.4" height="63.6"/><path d="M257.7 603.2v23M257.7 666.8v-23M604.3 603.2v11.5M604.3 666.8v-11.5M950.9 603.2v23M950.9 666.8v-23M1297.5 603.2v11.5M1297.5 666.8v-11.5M1644.1 603.2v23M1644.1 666.8v-23M1990.7 603.2v11.5M1990.7 666.8v-11.5M257.7 1362.2v23M257.7 1425.8v-23M604.3 1362.2v11.5M604.3 1425.8v-11.5M950.9 1362.2v23M950.9 1425.8v-23M1297.5 1362.2v11.5M1297.5 1425.8v-11.5M1644.1 1362.2v23M1644.1 1425.8v-23M1990.7 1362.2v11.5M1990.7 1425.8v-11.5"/></g>
<g font-family="'Liberation Serif', serif" font-size="42" fill="#000"><text x="293.45" y="523.4" text-anchor="middle">-5</text><text x="492.9" y="523.4" text-anchor="middle">0</text><text x="413.7" y="563.6" text-anchor="middle">x [ x 1e-1 Rsun ]</text><text x="627.6" y="83" text-anchor="end">t=40 [ s ]</text><text x="774.05" y="523.4" text-anchor="middle">-5</text><text x="973.5" y="523.4" text-anchor="middle">0</text><text x="894.3" y="563.6" text-anchor="middle">x [ x 1e-1 Rsun ]</text><text x="1108.2" y="83" text-anchor="end">t=80.1 [ s ]</text><text x="1254.65" y="523.4" text-anchor="middle">-5</text><text x="1454.1" y="523.4" text-anchor="middle">0</text><text x="1374.9" y="563.6" text-anchor="middle">x [ x 1e-1 Rsun ]</text><text x="1588.8" y="83" text-anchor="end">t=171 [ s ]</text><text x="1735.25" y="523.4" text-anchor="middle">-5</text><text x="1934.7" y="523.4" text-anchor="middle">0</text><text x="1855.5" y="563.6" text-anchor="middle">x [ x 1e-1 Rsun ]</text><text x="2069.4" y="83" text-anchor="end">t=337 [ s ]</text><text x="149.2" y="52.85" text-anchor="end">5</text><text x="149.6" y="253.1" text-anchor="end">0</text><text x="149.2" y="453.35" text-anchor="end">-5</text><text transform="translate(31.4,244.5) rotate(-90)" text-anchor="middle">y [ x 1e-1 Rsun ]</text><text x="293.45" y="1282.4" text-anchor="middle">-5</text><text x="492.9" y="1282.4" text-anchor="middle">0</text><text x="413.7" y="1322.6" text-anchor="middle">x [ x 1e-1 Rsun ]</text><text x="627.6" y="842" text-anchor="end">t=40 [ s ]</text><text x="774.05" y="1282.4" text-anchor="middle">-5</text><text x="973.5" y="1282.4" text-anchor="middle">0</text><text x="894.3" y="1322.6" text-anchor="middle">x [ x 1e-1 Rsun ]</text><text x="1108.2" y="842" text-anchor="end">t=80.1 [ s ]</text><text x="1254.65" y="1282.4" text-anchor="middle">-5</text><text x="1454.1" y="1282.4" text-anchor="middle">0</text><text x="1374.9" y="1322.6" text-anchor="middle">x [ x 1e-1 Rsun ]</text><text x="1588.8" y="842" text-anchor="end">t=171 [ s ]</text><text x="1735.25" y="1282.4" text-anchor="middle">-5</text><text x="1934.7" y="1282.4" text-anchor="middle">0</text><text x="1855.5" y="1322.6" text-anchor="middle">x [ x 1e-1 Rsun ]</text><text x="2069.4" y="842" text-anchor="end">t=337 [ s ]</text><text x="149.2" y="811.85" text-anchor="end">5</text><text x="149.6" y="1012.1" text-anchor="end">0</text><text x="149.2" y="1212.35" text-anchor="end">-5</text><text transform="translate(31.4,1003.5) rotate(-90)" text-anchor="middle">z [ x 1e-1 Rsun ]</text><text x="257.7" y="704.8" text-anchor="middle">-2</text><text x="950.3" y="704.8" text-anchor="middle">0</text><text x="1644.1" y="704.8" text-anchor="middle">2</text><text x="1134" y="745.6" text-anchor="middle">log density [ g/cm<tspan dy="-12.8" font-size="24.5">3</tspan><tspan dy="12.8"> ]</tspan></text><text x="257.7" y="1463.8" text-anchor="middle">-2</text><text x="950.3" y="1463.8" text-anchor="middle">0</text><text x="1644.1" y="1463.8" text-anchor="middle">2</text><text x="1134" y="1504.6" text-anchor="middle">log density [ g/cm<tspan dy="-12.8" font-size="24.5">3</tspan><tspan dy="12.8"> ]</tspan></text></g></svg>
</body></html>
